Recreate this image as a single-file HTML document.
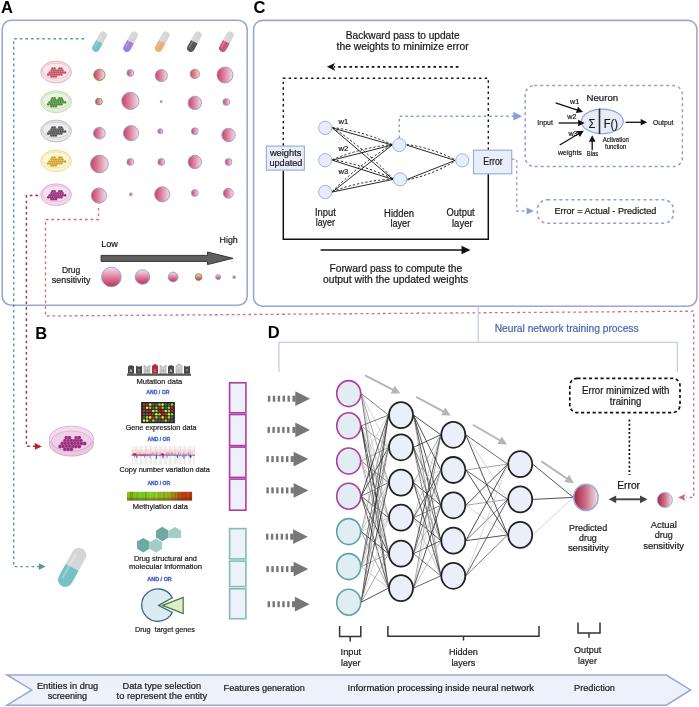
<!DOCTYPE html>
<html><head><meta charset="utf-8"><style>
html,body{margin:0;padding:0;background:#fff;}
svg{display:block;will-change:transform;}
text{font-family:"Liberation Sans",sans-serif;}
</style></head><body>
<svg width="699" height="707" viewBox="0 0 699 707">
<rect width="699" height="707" fill="#fff"/>

<defs>
 <linearGradient id="bub" x1="0" y1="0" x2="1" y2="0">
  <stop offset="0" stop-color="#cb3d62"/><stop offset="0.45" stop-color="#de8299"/><stop offset="1" stop-color="#f5e0e7"/>
 </linearGradient>
 <linearGradient id="bubo" x1="0" y1="0" x2="1" y2="0">
  <stop offset="0" stop-color="#cf4a48"/><stop offset="0.5" stop-color="#e58a80"/><stop offset="1" stop-color="#f6ddd8"/>
 </linearGradient>
 <linearGradient id="bubv" x1="0" y1="0" x2="0" y2="1">
  <stop offset="0" stop-color="#f6e2e8"/><stop offset="0.55" stop-color="#dc7892"/><stop offset="1" stop-color="#c22f55"/>
 </linearGradient>
 <linearGradient id="pred" x1="0" y1="0" x2="1" y2="0">
  <stop offset="0" stop-color="#a1213f"/><stop offset="0.5" stop-color="#cc7186"/><stop offset="1" stop-color="#f5e6eb"/>
 </linearGradient>
 <linearGradient id="meth" x1="0" y1="0" x2="1" y2="0">
  <stop offset="0" stop-color="#72c41c"/><stop offset="0.45" stop-color="#86d22a"/><stop offset="0.65" stop-color="#9aa81c"/><stop offset="0.8" stop-color="#b04a14"/><stop offset="1" stop-color="#c0300c"/>
 </linearGradient>
 <linearGradient id="methb" x1="0" y1="0" x2="0" y2="1">
  <stop offset="0" stop-color="#000" stop-opacity="0"/><stop offset="0.6" stop-color="#000" stop-opacity="0"/><stop offset="1" stop-color="#a02010" stop-opacity="0.55"/>
 </linearGradient>
 <marker id="ahb" viewBox="0 0 10 10" refX="9" refY="5" markerWidth="5" markerHeight="5" orient="auto-start-reverse" markerUnits="userSpaceOnUse">
  <path d="M0,0 L10,5 L0,10 z" fill="#111"/>
 </marker>
</defs>

<rect x="2.2" y="20.3" width="245" height="285" rx="9" fill="none" stroke="#98a7d6" stroke-width="1.6"/>
<rect x="253.6" y="20.4" width="443.3" height="285.9" rx="9" fill="none" stroke="#98a7d6" stroke-width="1.6"/>
<text x="1.0" y="13.2" font-size="16.5" font-weight="700" fill="#000">A</text>
<text x="253.6" y="13.2" font-size="16.5" font-weight="700" fill="#000">C</text>
<text x="35.2" y="338.7" font-size="16.5" font-weight="700" fill="#000">B</text>
<text x="267.8" y="338.4" font-size="16.5" font-weight="700" fill="#000">D</text>
<path d="M84,38.7 H13.7 V566.6 H39" fill="none" stroke="#4e9e9f" stroke-width="1.4" stroke-dasharray="2.6,3"/>
<path d="M38.9,563.2 L45.6,566.6 L38.9,570.0 z" fill="#4e9e9f"/>
<path d="M38,195.5 H26.4 V446.3 H35" fill="none" stroke="#b3262b" stroke-width="1.4" stroke-dasharray="2.6,3"/>
<path d="M34.8,443.1 L41.9,446.4 L34.8,449.7 z" fill="#b3262b"/>
<path d="M98.5,208 V219.5 H45.5 V316 L693.7,311.2 V497.4 H686" fill="none" stroke="#d8646e" stroke-width="1.3" stroke-dasharray="2.6,3"/>
<path d="M685.6,494.1 L677.9,497.4 L685.6,500.7 L684.0,497.4 z" fill="#d8646e"/>
<g transform="translate(99.5,41.7) rotate(29)">
<path d="M-3.75,0 V-7.4 A3.75,3.75 0 0 1 3.75,-7.4 V0 z" fill="#d6d6d6"/>
<path d="M-3.75,0 V7.4 A3.75,3.75 0 0 0 3.75,7.4 V0 z" fill="#73c4c8"/>
<path d="M-1.6875,-7.4 V7.4" stroke="#fff" stroke-opacity="0.25" stroke-width="1.125"/>
</g>
<g transform="translate(130.6,41.7) rotate(29)">
<path d="M-3.75,0 V-7.4 A3.75,3.75 0 0 1 3.75,-7.4 V0 z" fill="#d6d6d6"/>
<path d="M-3.75,0 V7.4 A3.75,3.75 0 0 0 3.75,7.4 V0 z" fill="#9b80dd"/>
<path d="M-1.6875,-7.4 V7.4" stroke="#fff" stroke-opacity="0.25" stroke-width="1.125"/>
</g>
<g transform="translate(162.2,41.7) rotate(29)">
<path d="M-3.75,0 V-7.4 A3.75,3.75 0 0 1 3.75,-7.4 V0 z" fill="#d6d6d6"/>
<path d="M-3.75,0 V7.4 A3.75,3.75 0 0 0 3.75,7.4 V0 z" fill="#e0b27c"/>
<path d="M-1.6875,-7.4 V7.4" stroke="#fff" stroke-opacity="0.25" stroke-width="1.125"/>
</g>
<g transform="translate(194.4,41.7) rotate(29)">
<path d="M-3.75,0 V-7.4 A3.75,3.75 0 0 1 3.75,-7.4 V0 z" fill="#d6d6d6"/>
<path d="M-3.75,0 V7.4 A3.75,3.75 0 0 0 3.75,7.4 V0 z" fill="#585858"/>
<path d="M-1.6875,-7.4 V7.4" stroke="#fff" stroke-opacity="0.25" stroke-width="1.125"/>
</g>
<g transform="translate(226.4,41.7) rotate(29)">
<path d="M-3.75,0 V-7.4 A3.75,3.75 0 0 1 3.75,-7.4 V0 z" fill="#d6d6d6"/>
<path d="M-3.75,0 V7.4 A3.75,3.75 0 0 0 3.75,7.4 V0 z" fill="#c9587a"/>
<path d="M-1.6875,-7.4 V7.4" stroke="#fff" stroke-opacity="0.25" stroke-width="1.125"/>
</g>
<ellipse cx="56.1" cy="72.0" rx="15.4" ry="10.9" fill="#f7e0e3" stroke="#e6aab3" stroke-width="0.8"/>
<ellipse cx="56.1" cy="70.91" rx="13.55" ry="7.85" fill="#fff" fill-opacity="0.3" stroke="#e6aab3" stroke-width="0.6" opacity="0.9"/>
<circle cx="52.50" cy="68.60" r="1.35" fill="#c4505c" stroke="#fff" stroke-opacity="0.3" stroke-width="0.35"/>
<circle cx="54.60" cy="68.60" r="1.35" fill="#c4505c" stroke="#fff" stroke-opacity="0.3" stroke-width="0.35"/>
<circle cx="59.30" cy="68.60" r="1.35" fill="#c4505c" stroke="#fff" stroke-opacity="0.3" stroke-width="0.35"/>
<circle cx="61.40" cy="68.60" r="1.35" fill="#c4505c" stroke="#fff" stroke-opacity="0.3" stroke-width="0.35"/>
<circle cx="51.50" cy="70.60" r="1.35" fill="#c4505c" stroke="#fff" stroke-opacity="0.3" stroke-width="0.35"/>
<circle cx="53.70" cy="70.60" r="1.35" fill="#c4505c" stroke="#fff" stroke-opacity="0.3" stroke-width="0.35"/>
<circle cx="55.90" cy="70.60" r="1.35" fill="#c4505c" stroke="#fff" stroke-opacity="0.3" stroke-width="0.35"/>
<circle cx="58.10" cy="70.60" r="1.35" fill="#c4505c" stroke="#fff" stroke-opacity="0.3" stroke-width="0.35"/>
<circle cx="60.30" cy="70.60" r="1.35" fill="#c4505c" stroke="#fff" stroke-opacity="0.3" stroke-width="0.35"/>
<circle cx="62.50" cy="70.60" r="1.35" fill="#c4505c" stroke="#fff" stroke-opacity="0.3" stroke-width="0.35"/>
<circle cx="49.70" cy="72.60" r="1.35" fill="#c4505c" stroke="#fff" stroke-opacity="0.3" stroke-width="0.35"/>
<circle cx="51.90" cy="72.60" r="1.35" fill="#c4505c" stroke="#fff" stroke-opacity="0.3" stroke-width="0.35"/>
<circle cx="54.10" cy="72.60" r="1.35" fill="#c4505c" stroke="#fff" stroke-opacity="0.3" stroke-width="0.35"/>
<circle cx="56.30" cy="72.60" r="1.35" fill="#c4505c" stroke="#fff" stroke-opacity="0.3" stroke-width="0.35"/>
<circle cx="58.50" cy="72.60" r="1.35" fill="#c4505c" stroke="#fff" stroke-opacity="0.3" stroke-width="0.35"/>
<circle cx="60.70" cy="72.60" r="1.35" fill="#c4505c" stroke="#fff" stroke-opacity="0.3" stroke-width="0.35"/>
<circle cx="62.90" cy="72.60" r="1.35" fill="#c4505c" stroke="#fff" stroke-opacity="0.3" stroke-width="0.35"/>
<circle cx="65.10" cy="72.60" r="1.35" fill="#c4505c" stroke="#fff" stroke-opacity="0.3" stroke-width="0.35"/>
<circle cx="48.20" cy="74.60" r="1.35" fill="#c4505c" stroke="#fff" stroke-opacity="0.3" stroke-width="0.35"/>
<circle cx="50.40" cy="74.60" r="1.35" fill="#c4505c" stroke="#fff" stroke-opacity="0.3" stroke-width="0.35"/>
<circle cx="52.60" cy="74.60" r="1.35" fill="#c4505c" stroke="#fff" stroke-opacity="0.3" stroke-width="0.35"/>
<circle cx="54.80" cy="74.60" r="1.35" fill="#c4505c" stroke="#fff" stroke-opacity="0.3" stroke-width="0.35"/>
<circle cx="57.00" cy="74.60" r="1.35" fill="#c4505c" stroke="#fff" stroke-opacity="0.3" stroke-width="0.35"/>
<circle cx="59.20" cy="74.60" r="1.35" fill="#c4505c" stroke="#fff" stroke-opacity="0.3" stroke-width="0.35"/>
<circle cx="61.40" cy="74.60" r="1.35" fill="#c4505c" stroke="#fff" stroke-opacity="0.3" stroke-width="0.35"/>
<circle cx="51.50" cy="76.50" r="1.35" fill="#c4505c" stroke="#fff" stroke-opacity="0.3" stroke-width="0.35"/>
<circle cx="53.70" cy="76.50" r="1.35" fill="#c4505c" stroke="#fff" stroke-opacity="0.3" stroke-width="0.35"/>
<circle cx="55.90" cy="76.50" r="1.35" fill="#c4505c" stroke="#fff" stroke-opacity="0.3" stroke-width="0.35"/>
<ellipse cx="56.1" cy="101.7" rx="15.4" ry="10.9" fill="#e3efd9" stroke="#b9d5a9" stroke-width="0.8"/>
<ellipse cx="56.1" cy="100.61" rx="13.55" ry="7.85" fill="#fff" fill-opacity="0.3" stroke="#b9d5a9" stroke-width="0.6" opacity="0.9"/>
<circle cx="52.50" cy="98.30" r="1.35" fill="#4f8b3b" stroke="#fff" stroke-opacity="0.3" stroke-width="0.35"/>
<circle cx="54.60" cy="98.30" r="1.35" fill="#4f8b3b" stroke="#fff" stroke-opacity="0.3" stroke-width="0.35"/>
<circle cx="59.30" cy="98.30" r="1.35" fill="#4f8b3b" stroke="#fff" stroke-opacity="0.3" stroke-width="0.35"/>
<circle cx="61.40" cy="98.30" r="1.35" fill="#4f8b3b" stroke="#fff" stroke-opacity="0.3" stroke-width="0.35"/>
<circle cx="51.50" cy="100.30" r="1.35" fill="#4f8b3b" stroke="#fff" stroke-opacity="0.3" stroke-width="0.35"/>
<circle cx="53.70" cy="100.30" r="1.35" fill="#4f8b3b" stroke="#fff" stroke-opacity="0.3" stroke-width="0.35"/>
<circle cx="55.90" cy="100.30" r="1.35" fill="#4f8b3b" stroke="#fff" stroke-opacity="0.3" stroke-width="0.35"/>
<circle cx="58.10" cy="100.30" r="1.35" fill="#4f8b3b" stroke="#fff" stroke-opacity="0.3" stroke-width="0.35"/>
<circle cx="60.30" cy="100.30" r="1.35" fill="#4f8b3b" stroke="#fff" stroke-opacity="0.3" stroke-width="0.35"/>
<circle cx="62.50" cy="100.30" r="1.35" fill="#4f8b3b" stroke="#fff" stroke-opacity="0.3" stroke-width="0.35"/>
<circle cx="49.70" cy="102.30" r="1.35" fill="#4f8b3b" stroke="#fff" stroke-opacity="0.3" stroke-width="0.35"/>
<circle cx="51.90" cy="102.30" r="1.35" fill="#4f8b3b" stroke="#fff" stroke-opacity="0.3" stroke-width="0.35"/>
<circle cx="54.10" cy="102.30" r="1.35" fill="#4f8b3b" stroke="#fff" stroke-opacity="0.3" stroke-width="0.35"/>
<circle cx="56.30" cy="102.30" r="1.35" fill="#4f8b3b" stroke="#fff" stroke-opacity="0.3" stroke-width="0.35"/>
<circle cx="58.50" cy="102.30" r="1.35" fill="#4f8b3b" stroke="#fff" stroke-opacity="0.3" stroke-width="0.35"/>
<circle cx="60.70" cy="102.30" r="1.35" fill="#4f8b3b" stroke="#fff" stroke-opacity="0.3" stroke-width="0.35"/>
<circle cx="62.90" cy="102.30" r="1.35" fill="#4f8b3b" stroke="#fff" stroke-opacity="0.3" stroke-width="0.35"/>
<circle cx="65.10" cy="102.30" r="1.35" fill="#4f8b3b" stroke="#fff" stroke-opacity="0.3" stroke-width="0.35"/>
<circle cx="48.20" cy="104.30" r="1.35" fill="#4f8b3b" stroke="#fff" stroke-opacity="0.3" stroke-width="0.35"/>
<circle cx="50.40" cy="104.30" r="1.35" fill="#4f8b3b" stroke="#fff" stroke-opacity="0.3" stroke-width="0.35"/>
<circle cx="52.60" cy="104.30" r="1.35" fill="#4f8b3b" stroke="#fff" stroke-opacity="0.3" stroke-width="0.35"/>
<circle cx="54.80" cy="104.30" r="1.35" fill="#4f8b3b" stroke="#fff" stroke-opacity="0.3" stroke-width="0.35"/>
<circle cx="57.00" cy="104.30" r="1.35" fill="#4f8b3b" stroke="#fff" stroke-opacity="0.3" stroke-width="0.35"/>
<circle cx="59.20" cy="104.30" r="1.35" fill="#4f8b3b" stroke="#fff" stroke-opacity="0.3" stroke-width="0.35"/>
<circle cx="61.40" cy="104.30" r="1.35" fill="#4f8b3b" stroke="#fff" stroke-opacity="0.3" stroke-width="0.35"/>
<circle cx="51.50" cy="106.20" r="1.35" fill="#4f8b3b" stroke="#fff" stroke-opacity="0.3" stroke-width="0.35"/>
<circle cx="53.70" cy="106.20" r="1.35" fill="#4f8b3b" stroke="#fff" stroke-opacity="0.3" stroke-width="0.35"/>
<circle cx="55.90" cy="106.20" r="1.35" fill="#4f8b3b" stroke="#fff" stroke-opacity="0.3" stroke-width="0.35"/>
<ellipse cx="56.1" cy="131.0" rx="15.4" ry="10.9" fill="#e6e6e6" stroke="#b9b9b9" stroke-width="0.8"/>
<ellipse cx="56.1" cy="129.91" rx="13.55" ry="7.85" fill="#fff" fill-opacity="0.3" stroke="#b9b9b9" stroke-width="0.6" opacity="0.9"/>
<circle cx="52.50" cy="127.60" r="1.35" fill="#4f4f4f" stroke="#fff" stroke-opacity="0.3" stroke-width="0.35"/>
<circle cx="54.60" cy="127.60" r="1.35" fill="#4f4f4f" stroke="#fff" stroke-opacity="0.3" stroke-width="0.35"/>
<circle cx="59.30" cy="127.60" r="1.35" fill="#4f4f4f" stroke="#fff" stroke-opacity="0.3" stroke-width="0.35"/>
<circle cx="61.40" cy="127.60" r="1.35" fill="#4f4f4f" stroke="#fff" stroke-opacity="0.3" stroke-width="0.35"/>
<circle cx="51.50" cy="129.60" r="1.35" fill="#4f4f4f" stroke="#fff" stroke-opacity="0.3" stroke-width="0.35"/>
<circle cx="53.70" cy="129.60" r="1.35" fill="#4f4f4f" stroke="#fff" stroke-opacity="0.3" stroke-width="0.35"/>
<circle cx="55.90" cy="129.60" r="1.35" fill="#4f4f4f" stroke="#fff" stroke-opacity="0.3" stroke-width="0.35"/>
<circle cx="58.10" cy="129.60" r="1.35" fill="#4f4f4f" stroke="#fff" stroke-opacity="0.3" stroke-width="0.35"/>
<circle cx="60.30" cy="129.60" r="1.35" fill="#4f4f4f" stroke="#fff" stroke-opacity="0.3" stroke-width="0.35"/>
<circle cx="62.50" cy="129.60" r="1.35" fill="#4f4f4f" stroke="#fff" stroke-opacity="0.3" stroke-width="0.35"/>
<circle cx="49.70" cy="131.60" r="1.35" fill="#4f4f4f" stroke="#fff" stroke-opacity="0.3" stroke-width="0.35"/>
<circle cx="51.90" cy="131.60" r="1.35" fill="#4f4f4f" stroke="#fff" stroke-opacity="0.3" stroke-width="0.35"/>
<circle cx="54.10" cy="131.60" r="1.35" fill="#4f4f4f" stroke="#fff" stroke-opacity="0.3" stroke-width="0.35"/>
<circle cx="56.30" cy="131.60" r="1.35" fill="#4f4f4f" stroke="#fff" stroke-opacity="0.3" stroke-width="0.35"/>
<circle cx="58.50" cy="131.60" r="1.35" fill="#4f4f4f" stroke="#fff" stroke-opacity="0.3" stroke-width="0.35"/>
<circle cx="60.70" cy="131.60" r="1.35" fill="#4f4f4f" stroke="#fff" stroke-opacity="0.3" stroke-width="0.35"/>
<circle cx="62.90" cy="131.60" r="1.35" fill="#4f4f4f" stroke="#fff" stroke-opacity="0.3" stroke-width="0.35"/>
<circle cx="65.10" cy="131.60" r="1.35" fill="#4f4f4f" stroke="#fff" stroke-opacity="0.3" stroke-width="0.35"/>
<circle cx="48.20" cy="133.60" r="1.35" fill="#4f4f4f" stroke="#fff" stroke-opacity="0.3" stroke-width="0.35"/>
<circle cx="50.40" cy="133.60" r="1.35" fill="#4f4f4f" stroke="#fff" stroke-opacity="0.3" stroke-width="0.35"/>
<circle cx="52.60" cy="133.60" r="1.35" fill="#4f4f4f" stroke="#fff" stroke-opacity="0.3" stroke-width="0.35"/>
<circle cx="54.80" cy="133.60" r="1.35" fill="#4f4f4f" stroke="#fff" stroke-opacity="0.3" stroke-width="0.35"/>
<circle cx="57.00" cy="133.60" r="1.35" fill="#4f4f4f" stroke="#fff" stroke-opacity="0.3" stroke-width="0.35"/>
<circle cx="59.20" cy="133.60" r="1.35" fill="#4f4f4f" stroke="#fff" stroke-opacity="0.3" stroke-width="0.35"/>
<circle cx="61.40" cy="133.60" r="1.35" fill="#4f4f4f" stroke="#fff" stroke-opacity="0.3" stroke-width="0.35"/>
<circle cx="51.50" cy="135.50" r="1.35" fill="#4f4f4f" stroke="#fff" stroke-opacity="0.3" stroke-width="0.35"/>
<circle cx="53.70" cy="135.50" r="1.35" fill="#4f4f4f" stroke="#fff" stroke-opacity="0.3" stroke-width="0.35"/>
<circle cx="55.90" cy="135.50" r="1.35" fill="#4f4f4f" stroke="#fff" stroke-opacity="0.3" stroke-width="0.35"/>
<ellipse cx="56.1" cy="160.9" rx="15.4" ry="10.9" fill="#fbf2cc" stroke="#ead88c" stroke-width="0.8"/>
<ellipse cx="56.1" cy="159.81" rx="13.55" ry="7.85" fill="#fff" fill-opacity="0.3" stroke="#ead88c" stroke-width="0.6" opacity="0.9"/>
<circle cx="52.50" cy="157.50" r="1.35" fill="#d3a224" stroke="#fff" stroke-opacity="0.3" stroke-width="0.35"/>
<circle cx="54.60" cy="157.50" r="1.35" fill="#d3a224" stroke="#fff" stroke-opacity="0.3" stroke-width="0.35"/>
<circle cx="59.30" cy="157.50" r="1.35" fill="#d3a224" stroke="#fff" stroke-opacity="0.3" stroke-width="0.35"/>
<circle cx="61.40" cy="157.50" r="1.35" fill="#d3a224" stroke="#fff" stroke-opacity="0.3" stroke-width="0.35"/>
<circle cx="51.50" cy="159.50" r="1.35" fill="#d3a224" stroke="#fff" stroke-opacity="0.3" stroke-width="0.35"/>
<circle cx="53.70" cy="159.50" r="1.35" fill="#d3a224" stroke="#fff" stroke-opacity="0.3" stroke-width="0.35"/>
<circle cx="55.90" cy="159.50" r="1.35" fill="#d3a224" stroke="#fff" stroke-opacity="0.3" stroke-width="0.35"/>
<circle cx="58.10" cy="159.50" r="1.35" fill="#d3a224" stroke="#fff" stroke-opacity="0.3" stroke-width="0.35"/>
<circle cx="60.30" cy="159.50" r="1.35" fill="#d3a224" stroke="#fff" stroke-opacity="0.3" stroke-width="0.35"/>
<circle cx="62.50" cy="159.50" r="1.35" fill="#d3a224" stroke="#fff" stroke-opacity="0.3" stroke-width="0.35"/>
<circle cx="49.70" cy="161.50" r="1.35" fill="#d3a224" stroke="#fff" stroke-opacity="0.3" stroke-width="0.35"/>
<circle cx="51.90" cy="161.50" r="1.35" fill="#d3a224" stroke="#fff" stroke-opacity="0.3" stroke-width="0.35"/>
<circle cx="54.10" cy="161.50" r="1.35" fill="#d3a224" stroke="#fff" stroke-opacity="0.3" stroke-width="0.35"/>
<circle cx="56.30" cy="161.50" r="1.35" fill="#d3a224" stroke="#fff" stroke-opacity="0.3" stroke-width="0.35"/>
<circle cx="58.50" cy="161.50" r="1.35" fill="#d3a224" stroke="#fff" stroke-opacity="0.3" stroke-width="0.35"/>
<circle cx="60.70" cy="161.50" r="1.35" fill="#d3a224" stroke="#fff" stroke-opacity="0.3" stroke-width="0.35"/>
<circle cx="62.90" cy="161.50" r="1.35" fill="#d3a224" stroke="#fff" stroke-opacity="0.3" stroke-width="0.35"/>
<circle cx="65.10" cy="161.50" r="1.35" fill="#d3a224" stroke="#fff" stroke-opacity="0.3" stroke-width="0.35"/>
<circle cx="48.20" cy="163.50" r="1.35" fill="#d3a224" stroke="#fff" stroke-opacity="0.3" stroke-width="0.35"/>
<circle cx="50.40" cy="163.50" r="1.35" fill="#d3a224" stroke="#fff" stroke-opacity="0.3" stroke-width="0.35"/>
<circle cx="52.60" cy="163.50" r="1.35" fill="#d3a224" stroke="#fff" stroke-opacity="0.3" stroke-width="0.35"/>
<circle cx="54.80" cy="163.50" r="1.35" fill="#d3a224" stroke="#fff" stroke-opacity="0.3" stroke-width="0.35"/>
<circle cx="57.00" cy="163.50" r="1.35" fill="#d3a224" stroke="#fff" stroke-opacity="0.3" stroke-width="0.35"/>
<circle cx="59.20" cy="163.50" r="1.35" fill="#d3a224" stroke="#fff" stroke-opacity="0.3" stroke-width="0.35"/>
<circle cx="61.40" cy="163.50" r="1.35" fill="#d3a224" stroke="#fff" stroke-opacity="0.3" stroke-width="0.35"/>
<circle cx="51.50" cy="165.40" r="1.35" fill="#d3a224" stroke="#fff" stroke-opacity="0.3" stroke-width="0.35"/>
<circle cx="53.70" cy="165.40" r="1.35" fill="#d3a224" stroke="#fff" stroke-opacity="0.3" stroke-width="0.35"/>
<circle cx="55.90" cy="165.40" r="1.35" fill="#d3a224" stroke="#fff" stroke-opacity="0.3" stroke-width="0.35"/>
<ellipse cx="56.1" cy="194.7" rx="15.4" ry="10.9" fill="#f3d8ec" stroke="#d8a6cd" stroke-width="0.8"/>
<ellipse cx="56.1" cy="193.61" rx="13.55" ry="7.85" fill="#fff" fill-opacity="0.3" stroke="#d8a6cd" stroke-width="0.6" opacity="0.9"/>
<circle cx="52.50" cy="191.30" r="1.35" fill="#962a78" stroke="#fff" stroke-opacity="0.3" stroke-width="0.35"/>
<circle cx="54.60" cy="191.30" r="1.35" fill="#962a78" stroke="#fff" stroke-opacity="0.3" stroke-width="0.35"/>
<circle cx="59.30" cy="191.30" r="1.35" fill="#962a78" stroke="#fff" stroke-opacity="0.3" stroke-width="0.35"/>
<circle cx="61.40" cy="191.30" r="1.35" fill="#962a78" stroke="#fff" stroke-opacity="0.3" stroke-width="0.35"/>
<circle cx="51.50" cy="193.30" r="1.35" fill="#962a78" stroke="#fff" stroke-opacity="0.3" stroke-width="0.35"/>
<circle cx="53.70" cy="193.30" r="1.35" fill="#962a78" stroke="#fff" stroke-opacity="0.3" stroke-width="0.35"/>
<circle cx="55.90" cy="193.30" r="1.35" fill="#962a78" stroke="#fff" stroke-opacity="0.3" stroke-width="0.35"/>
<circle cx="58.10" cy="193.30" r="1.35" fill="#962a78" stroke="#fff" stroke-opacity="0.3" stroke-width="0.35"/>
<circle cx="60.30" cy="193.30" r="1.35" fill="#962a78" stroke="#fff" stroke-opacity="0.3" stroke-width="0.35"/>
<circle cx="62.50" cy="193.30" r="1.35" fill="#962a78" stroke="#fff" stroke-opacity="0.3" stroke-width="0.35"/>
<circle cx="49.70" cy="195.30" r="1.35" fill="#962a78" stroke="#fff" stroke-opacity="0.3" stroke-width="0.35"/>
<circle cx="51.90" cy="195.30" r="1.35" fill="#962a78" stroke="#fff" stroke-opacity="0.3" stroke-width="0.35"/>
<circle cx="54.10" cy="195.30" r="1.35" fill="#962a78" stroke="#fff" stroke-opacity="0.3" stroke-width="0.35"/>
<circle cx="56.30" cy="195.30" r="1.35" fill="#962a78" stroke="#fff" stroke-opacity="0.3" stroke-width="0.35"/>
<circle cx="58.50" cy="195.30" r="1.35" fill="#962a78" stroke="#fff" stroke-opacity="0.3" stroke-width="0.35"/>
<circle cx="60.70" cy="195.30" r="1.35" fill="#962a78" stroke="#fff" stroke-opacity="0.3" stroke-width="0.35"/>
<circle cx="62.90" cy="195.30" r="1.35" fill="#962a78" stroke="#fff" stroke-opacity="0.3" stroke-width="0.35"/>
<circle cx="65.10" cy="195.30" r="1.35" fill="#962a78" stroke="#fff" stroke-opacity="0.3" stroke-width="0.35"/>
<circle cx="48.20" cy="197.30" r="1.35" fill="#962a78" stroke="#fff" stroke-opacity="0.3" stroke-width="0.35"/>
<circle cx="50.40" cy="197.30" r="1.35" fill="#962a78" stroke="#fff" stroke-opacity="0.3" stroke-width="0.35"/>
<circle cx="52.60" cy="197.30" r="1.35" fill="#962a78" stroke="#fff" stroke-opacity="0.3" stroke-width="0.35"/>
<circle cx="54.80" cy="197.30" r="1.35" fill="#962a78" stroke="#fff" stroke-opacity="0.3" stroke-width="0.35"/>
<circle cx="57.00" cy="197.30" r="1.35" fill="#962a78" stroke="#fff" stroke-opacity="0.3" stroke-width="0.35"/>
<circle cx="59.20" cy="197.30" r="1.35" fill="#962a78" stroke="#fff" stroke-opacity="0.3" stroke-width="0.35"/>
<circle cx="61.40" cy="197.30" r="1.35" fill="#962a78" stroke="#fff" stroke-opacity="0.3" stroke-width="0.35"/>
<circle cx="51.50" cy="199.20" r="1.35" fill="#962a78" stroke="#fff" stroke-opacity="0.3" stroke-width="0.35"/>
<circle cx="53.70" cy="199.20" r="1.35" fill="#962a78" stroke="#fff" stroke-opacity="0.3" stroke-width="0.35"/>
<circle cx="55.90" cy="199.20" r="1.35" fill="#962a78" stroke="#fff" stroke-opacity="0.3" stroke-width="0.35"/>
<circle cx="99.4" cy="74.9" r="5.7" fill="url(#bub)" stroke="#6e9e3e" stroke-width="0.9"/>
<circle cx="130.3" cy="73.0" r="3.4" fill="url(#bub)" stroke="#8d9ce0" stroke-width="0.9"/>
<circle cx="161.3" cy="75.6" r="6.1" fill="url(#bub)" stroke="#8d9ce0" stroke-width="0.9"/>
<circle cx="194.8" cy="73.9" r="4.7" fill="url(#bubo)" stroke="#8d9ce0" stroke-width="0.9"/>
<circle cx="225.0" cy="75.0" r="8.0" fill="url(#bub)" stroke="#8d9ce0" stroke-width="0.9"/>
<circle cx="98.9" cy="101.6" r="3.4" fill="url(#bub)" stroke="#6e9e3e" stroke-width="0.9"/>
<circle cx="130.3" cy="100.9" r="8.6" fill="url(#bub)" stroke="#8d9ce0" stroke-width="0.9"/>
<circle cx="161.3" cy="101.6" r="1.2" fill="url(#bub)" stroke="#8d9ce0" stroke-width="0.6"/>
<circle cx="194.8" cy="102.9" r="6.7" fill="url(#bub)" stroke="#8d9ce0" stroke-width="0.9"/>
<circle cx="226.3" cy="102.0" r="3.4" fill="url(#bub)" stroke="#8d9ce0" stroke-width="0.9"/>
<circle cx="99.4" cy="133.2" r="5.9" fill="url(#bub)" stroke="#8d9ce0" stroke-width="0.9"/>
<circle cx="131.0" cy="133.2" r="7.6" fill="url(#bub)" stroke="#8d9ce0" stroke-width="0.9"/>
<circle cx="160.3" cy="131.2" r="2.5" fill="url(#bub)" stroke="#8d9ce0" stroke-width="0.9"/>
<circle cx="194.8" cy="131.2" r="3.4" fill="url(#bub)" stroke="#8d9ce0" stroke-width="0.9"/>
<circle cx="228.5" cy="135.0" r="6.7" fill="url(#bub)" stroke="#8d9ce0" stroke-width="0.9"/>
<circle cx="99.4" cy="164.0" r="8.9" fill="url(#bub)" stroke="#8d9ce0" stroke-width="0.9"/>
<circle cx="130.3" cy="162.0" r="3.4" fill="url(#bub)" stroke="#8d9ce0" stroke-width="0.9"/>
<circle cx="161.3" cy="162.0" r="3.4" fill="url(#bub)" stroke="#8d9ce0" stroke-width="0.9"/>
<circle cx="194.8" cy="162.0" r="6.7" fill="url(#bub)" stroke="#8d9ce0" stroke-width="0.9"/>
<circle cx="228.5" cy="162.0" r="3.4" fill="url(#bub)" stroke="#8d9ce0" stroke-width="0.9"/>
<circle cx="98.9" cy="195.6" r="7.6" fill="url(#bub)" stroke="#8d9ce0" stroke-width="0.9"/>
<circle cx="131.0" cy="194.3" r="1.6" fill="url(#bub)" stroke="#8d9ce0" stroke-width="0.6"/>
<circle cx="162.2" cy="194.3" r="7.6" fill="url(#bub)" stroke="#8d9ce0" stroke-width="0.9"/>
<circle cx="194.8" cy="193.0" r="3.4" fill="url(#bub)" stroke="#8d9ce0" stroke-width="0.9"/>
<circle cx="228.3" cy="193.3" r="5.0" fill="url(#bub)" stroke="#8d9ce0" stroke-width="0.9"/>
<text x="101.2" y="246.9" font-size="9.6" fill="#1a1a1a" stroke="#1a1a1a" stroke-width="0.22" textLength="16.7" lengthAdjust="spacingAndGlyphs">Low</text>
<text x="219.6" y="242.9" font-size="9.6" fill="#1a1a1a" stroke="#1a1a1a" stroke-width="0.22" textLength="18.2" lengthAdjust="spacingAndGlyphs">High</text>
<path d="M101.1,255.4 H207.5 V252 L233,258.3 L207.5,264.6 V261.4 H101.1 z" fill="#5f5f5f" stroke="#2a2a2a" stroke-width="0.9" stroke-linejoin="miter"/>
<text x="61.9" y="272.8" font-size="9.3" fill="#1a1a1a" stroke="#1a1a1a" stroke-width="0.22" textLength="18.3" lengthAdjust="spacingAndGlyphs">Drug</text>
<text x="51.8" y="282.7" font-size="9.3" fill="#1a1a1a" stroke="#1a1a1a" stroke-width="0.22" textLength="38.7" lengthAdjust="spacingAndGlyphs">sensitivity</text>
<circle cx="111.4" cy="277.0" r="9.8" fill="url(#bubv)" stroke="#8d9ce0" stroke-width="0.9"/>
<circle cx="142.5" cy="277.0" r="7.3" fill="url(#bubv)" stroke="#8d9ce0" stroke-width="0.9"/>
<circle cx="173.1" cy="277.0" r="4.9" fill="url(#bubv)" stroke="#8d9ce0" stroke-width="0.9"/>
<circle cx="198.6" cy="277.0" r="3.4" fill="url(#bubv)" stroke="#6e9e3e" stroke-width="0.9"/>
<circle cx="218.2" cy="277.0" r="2.5" fill="url(#bubv)" stroke="#8d9ce0" stroke-width="0.9"/>
<circle cx="234.1" cy="277.0" r="1.5" fill="url(#bubv)" stroke="#8d9ce0" stroke-width="0.6"/>
<text x="345.8" y="39.2" font-size="10.4" fill="#1a1a1a" stroke="#1a1a1a" stroke-width="0.22" textLength="113.9" lengthAdjust="spacingAndGlyphs">Backward pass to update</text>
<text x="336.6" y="50.0" font-size="10.4" fill="#1a1a1a" stroke="#1a1a1a" stroke-width="0.22" textLength="132.1" lengthAdjust="spacingAndGlyphs">the weights to minimize error</text>
<path d="M458.4,66.8 H334" fill="none" stroke="#111" stroke-width="1.8" stroke-dasharray="2.6,3.0"/>
<path d="M326.9,66.8 L335,62.9 L333.2,66.8 L335,70.7 z" fill="#111"/>
<path d="M283.3,145.7 V78.3 H488.3 V149.8" fill="none" stroke="#111" stroke-width="1.4" stroke-dasharray="2.4,3.2"/>
<path d="M283.3,170.4 V239.3 H488.3 V174" fill="none" stroke="#111" stroke-width="1.5"/>
<rect x="266.4" y="146.1" width="38" height="24" fill="#e9eefa" stroke="#9aaee2" stroke-width="1.2"/>
<text x="269.9" y="155.6" font-size="9.6" fill="#1a1a1a" stroke="#1a1a1a" stroke-width="0.22" textLength="31.5" lengthAdjust="spacingAndGlyphs">weights</text>
<text x="269.5" y="165.9" font-size="9.6" fill="#1a1a1a" stroke="#1a1a1a" stroke-width="0.22" textLength="32.9" lengthAdjust="spacingAndGlyphs">updated</text>
<rect x="473.5" y="150.2" width="38.2" height="23.6" fill="#e9eefa" stroke="#9aaee2" stroke-width="1.2"/>
<text x="483.3" y="165.0" font-size="10.3" fill="#1a1a1a" stroke="#1a1a1a" stroke-width="0.22" textLength="19.5" lengthAdjust="spacingAndGlyphs">Error</text>
<line x1="332.3" y1="127.9" x2="392.2" y2="145.0" stroke="#111" stroke-width="0.9"/>
<path d="M332.4,127.4 Q363.6,131.6 392.3,144.5" fill="none" stroke="#111" stroke-width="0.9" stroke-dasharray="2.3,2.0"/>
<line x1="332.3" y1="127.9" x2="393.0" y2="179.4" stroke="#111" stroke-width="0.9"/>
<path d="M332.6,127.5 Q365.9,149.8 393.3,179.0" fill="none" stroke="#111" stroke-width="0.9" stroke-dasharray="2.3,2.0"/>
<line x1="332.3" y1="160.2" x2="392.2" y2="145.0" stroke="#111" stroke-width="0.9"/>
<path d="M332.2,159.7 Q361.0,147.8 392.1,144.5" fill="none" stroke="#111" stroke-width="0.9" stroke-dasharray="2.3,2.0"/>
<line x1="332.3" y1="160.2" x2="393.0" y2="179.4" stroke="#111" stroke-width="0.9"/>
<path d="M332.5,159.7 Q364.2,165.0 393.2,178.9" fill="none" stroke="#111" stroke-width="0.9" stroke-dasharray="2.3,2.0"/>
<line x1="332.3" y1="192.0" x2="392.2" y2="145.0" stroke="#111" stroke-width="0.9"/>
<path d="M332.0,191.6 Q359.2,164.6 391.9,144.6" fill="none" stroke="#111" stroke-width="0.9" stroke-dasharray="2.3,2.0"/>
<line x1="332.3" y1="192.0" x2="393.0" y2="179.4" stroke="#111" stroke-width="0.9"/>
<path d="M332.2,191.5 Q361.6,180.8 392.9,178.9" fill="none" stroke="#111" stroke-width="0.9" stroke-dasharray="2.3,2.0"/>
<line x1="406.4" y1="145.0" x2="455.2" y2="160.4" stroke="#111" stroke-width="0.9"/>
<path d="M406.6,144.5 Q432.3,147.9 455.4,159.9" fill="none" stroke="#111" stroke-width="0.9" stroke-dasharray="2.3,2.0"/>
<line x1="407.2" y1="179.4" x2="455.2" y2="160.4" stroke="#111" stroke-width="0.9"/>
<path d="M407.4,179.9 Q433.0,174.5 455.4,160.9" fill="none" stroke="#111" stroke-width="0.9" stroke-dasharray="2.3,2.0"/>
<circle cx="325.2" cy="127.9" r="6.6" fill="#e8eef9" stroke="#9db0e2" stroke-width="1"/>
<circle cx="325.2" cy="160.2" r="6.6" fill="#e8eef9" stroke="#9db0e2" stroke-width="1"/>
<circle cx="325.2" cy="192.0" r="6.6" fill="#e8eef9" stroke="#9db0e2" stroke-width="1"/>
<circle cx="399.3" cy="145.0" r="6.6" fill="#e8eef9" stroke="#9db0e2" stroke-width="1"/>
<circle cx="400.1" cy="179.4" r="6.6" fill="#e8eef9" stroke="#9db0e2" stroke-width="1"/>
<circle cx="462.3" cy="160.4" r="6.6" fill="#e8eef9" stroke="#9db0e2" stroke-width="1"/>
<text x="338.6" y="124.3" font-size="7.6" fill="#1a1a1a" stroke="#1a1a1a" stroke-width="0.2">w1</text>
<text x="338.6" y="150.5" font-size="7.6" fill="#1a1a1a" stroke="#1a1a1a" stroke-width="0.2">w2</text>
<text x="338.6" y="174.4" font-size="7.6" fill="#1a1a1a" stroke="#1a1a1a" stroke-width="0.2">w3</text>
<text x="315.0" y="215.5" font-size="10.0" fill="#1a1a1a" stroke="#1a1a1a" stroke-width="0.22" textLength="20.8" lengthAdjust="spacingAndGlyphs">Input</text>
<text x="315.7" y="226.2" font-size="10.0" fill="#1a1a1a" stroke="#1a1a1a" stroke-width="0.22" textLength="19.2" lengthAdjust="spacingAndGlyphs">layer</text>
<text x="384.1" y="217.1" font-size="10.0" fill="#1a1a1a" stroke="#1a1a1a" stroke-width="0.22" textLength="29.8" lengthAdjust="spacingAndGlyphs">Hidden</text>
<text x="390.5" y="227.4" font-size="10.0" fill="#1a1a1a" stroke="#1a1a1a" stroke-width="0.22" textLength="19.7" lengthAdjust="spacingAndGlyphs">layer</text>
<text x="446.6" y="216.3" font-size="10.0" fill="#1a1a1a" stroke="#1a1a1a" stroke-width="0.22" textLength="28.1" lengthAdjust="spacingAndGlyphs">Output</text>
<text x="452.0" y="226.7" font-size="10.0" fill="#1a1a1a" stroke="#1a1a1a" stroke-width="0.22" textLength="20.7" lengthAdjust="spacingAndGlyphs">layer</text>
<path d="M320.6,250 H463" stroke="#111" stroke-width="1.5"/>
<path d="M470.5,250 L461.5,245.8 L461.5,254.2 z" fill="#111"/>
<text x="329.5" y="272.3" font-size="10.4" fill="#1a1a1a" stroke="#1a1a1a" stroke-width="0.22" textLength="132.7" lengthAdjust="spacingAndGlyphs">Forward pass to compute the</text>
<text x="322.9" y="283.2" font-size="10.4" fill="#1a1a1a" stroke="#1a1a1a" stroke-width="0.22" textLength="145.3" lengthAdjust="spacingAndGlyphs">output with the updated weights</text>
<path d="M399.3,138.2 V116.2 H514" fill="none" stroke="#8c9ed8" stroke-width="1.5" stroke-dasharray="2.6,3"/>
<path d="M513.4,111.8 L522.2,116.2 L513.4,120.6 z" fill="#8c9ed8"/>
<path d="M512,159.1 H516.8 V211 H527" fill="none" stroke="#8c9ed8" stroke-width="1.3" stroke-dasharray="2.6,3"/>
<path d="M526.6,207.4 L534,211 L526.6,214.6 z" fill="#8c9ed8"/>
<rect x="525.2" y="85.6" width="157.2" height="81" rx="9" fill="none" stroke="#8c9ed8" stroke-width="1.5" stroke-dasharray="3,3"/>
<text x="586.5" y="101.0" font-size="9.8" fill="#1a1a1a" stroke="#1a1a1a" stroke-width="0.22" textLength="31.6" lengthAdjust="spacingAndGlyphs">Neuron</text>
<ellipse cx="602.3" cy="121.4" rx="21" ry="12.3" fill="#e6ecf8" stroke="#8c9ed8" stroke-width="1.1"/>
<path d="M599.5,108.6 V134.2" stroke="#333" stroke-width="1.6"/>
<text x="588.4" y="127.7" font-size="13.5" fill="#1a1a1a" stroke="#1a1a1a" stroke-width="0.22" textLength="6.9" lengthAdjust="spacingAndGlyphs">&#931;</text>
<text x="603.7" y="128.4" font-size="13.5" fill="#1a1a1a" stroke="#1a1a1a" stroke-width="0.22" textLength="14.4" lengthAdjust="spacingAndGlyphs">F()</text>
<text x="537.3" y="124.8" font-size="7.4" fill="#1a1a1a" stroke="#1a1a1a" stroke-width="0.2" textLength="15.6" lengthAdjust="spacingAndGlyphs">Input</text>
<text x="652.9" y="124.8" font-size="7.4" fill="#1a1a1a" stroke="#1a1a1a" stroke-width="0.2" textLength="20.6" lengthAdjust="spacingAndGlyphs">Output</text>
<text x="570.0" y="103.8" font-size="7.2" fill="#1a1a1a" stroke="#1a1a1a" stroke-width="0.2">w1</text>
<text x="567.3" y="119.3" font-size="7.2" fill="#1a1a1a" stroke="#1a1a1a" stroke-width="0.2">w2</text>
<text x="568.4" y="135.8" font-size="7.2" fill="#1a1a1a" stroke="#1a1a1a" stroke-width="0.2">w3</text>
<text x="557.9" y="155.3" font-size="7.5" fill="#1a1a1a" stroke="#1a1a1a" stroke-width="0.2" textLength="24.0" lengthAdjust="spacingAndGlyphs">weights</text>
<text x="586.8" y="156.2" font-size="6.9" fill="#1a1a1a" stroke="#1a1a1a" stroke-width="0.2" textLength="11.4" lengthAdjust="spacingAndGlyphs">Bias</text>
<text x="602.8" y="142.2" font-size="6.7" fill="#1a1a1a" stroke="#1a1a1a" stroke-width="0.2" textLength="26.1" lengthAdjust="spacingAndGlyphs">Activation</text>
<text x="605.0" y="148.8" font-size="6.7" fill="#1a1a1a" stroke="#1a1a1a" stroke-width="0.2" textLength="21.1" lengthAdjust="spacingAndGlyphs">function</text>
<line x1="555.6" y1="102.8" x2="577.4" y2="110.1" stroke="#111" stroke-width="1.3"/>
<path d="M583.1,112.0 L575.9,113.1 L578.0,106.8 z" fill="#111"/>
<line x1="558.6" y1="123.0" x2="578.6" y2="123.0" stroke="#111" stroke-width="1.3"/>
<path d="M584.6,123.0 L578.1,126.3 L578.1,119.7 z" fill="#111"/>
<line x1="559.7" y1="145.0" x2="578.6" y2="133.8" stroke="#111" stroke-width="1.3"/>
<path d="M583.8,130.8 L579.9,136.9 L576.5,131.3 z" fill="#111"/>
<line x1="592.2" y1="150.2" x2="592.2" y2="141.2" stroke="#111" stroke-width="1.3"/>
<path d="M592.2,135.2 L595.5,141.7 L588.9,141.7 z" fill="#111"/>
<line x1="625.7" y1="122.3" x2="641.2" y2="122.3" stroke="#111" stroke-width="1.3"/>
<path d="M647.2,122.3 L640.7,125.6 L640.7,119.0 z" fill="#111"/>
<rect x="537.4" y="199.7" width="136" height="23.6" rx="10" fill="none" stroke="#8c9ed8" stroke-width="1.5" stroke-dasharray="3,3"/>
<text x="554.4" y="214.4" font-size="9.4" fill="#1a1a1a" stroke="#1a1a1a" stroke-width="0.22" textLength="102.0" lengthAdjust="spacingAndGlyphs">Error = Actual - Predicted</text>
<path d="M478.2,306.5 V342.4" stroke="#c3cbec" stroke-width="1.3"/>
<path d="M278.9,372 V342.4 H677.4 V372" fill="none" stroke="#c3cbec" stroke-width="1.3"/>
<text x="494.7" y="332.1" font-size="10.2" fill="#4a66b3" stroke="#4a66b3" stroke-width="0.22" textLength="143.9" lengthAdjust="spacingAndGlyphs">Neural network training process</text>
<ellipse cx="71.4" cy="443.7" rx="22" ry="12.4" fill="#ecc6e2" stroke="#d29fc6" stroke-width="0.8"/>
<ellipse cx="71.4" cy="438.6" rx="22" ry="12.4" fill="#f4dcef" stroke="#d29fc6" stroke-width="0.8"/>
<ellipse cx="71.4" cy="441" rx="20" ry="10" fill="#efd0e7" stroke="#d7a8cd" stroke-width="0.7"/>
<circle cx="66.38" cy="437.77" r="1.96" fill="#992a7c" stroke="#fff" stroke-opacity="0.3" stroke-width="0.51"/>
<circle cx="69.42" cy="437.77" r="1.96" fill="#992a7c" stroke="#fff" stroke-opacity="0.3" stroke-width="0.51"/>
<circle cx="76.24" cy="437.77" r="1.96" fill="#992a7c" stroke="#fff" stroke-opacity="0.3" stroke-width="0.51"/>
<circle cx="79.28" cy="437.77" r="1.96" fill="#992a7c" stroke="#fff" stroke-opacity="0.3" stroke-width="0.51"/>
<circle cx="64.93" cy="440.67" r="1.96" fill="#992a7c" stroke="#fff" stroke-opacity="0.3" stroke-width="0.51"/>
<circle cx="68.12" cy="440.67" r="1.96" fill="#992a7c" stroke="#fff" stroke-opacity="0.3" stroke-width="0.51"/>
<circle cx="71.31" cy="440.67" r="1.96" fill="#992a7c" stroke="#fff" stroke-opacity="0.3" stroke-width="0.51"/>
<circle cx="74.50" cy="440.67" r="1.96" fill="#992a7c" stroke="#fff" stroke-opacity="0.3" stroke-width="0.51"/>
<circle cx="77.69" cy="440.67" r="1.96" fill="#992a7c" stroke="#fff" stroke-opacity="0.3" stroke-width="0.51"/>
<circle cx="80.88" cy="440.67" r="1.96" fill="#992a7c" stroke="#fff" stroke-opacity="0.3" stroke-width="0.51"/>
<circle cx="62.32" cy="443.57" r="1.96" fill="#992a7c" stroke="#fff" stroke-opacity="0.3" stroke-width="0.51"/>
<circle cx="65.51" cy="443.57" r="1.96" fill="#992a7c" stroke="#fff" stroke-opacity="0.3" stroke-width="0.51"/>
<circle cx="68.70" cy="443.57" r="1.96" fill="#992a7c" stroke="#fff" stroke-opacity="0.3" stroke-width="0.51"/>
<circle cx="71.89" cy="443.57" r="1.96" fill="#992a7c" stroke="#fff" stroke-opacity="0.3" stroke-width="0.51"/>
<circle cx="75.08" cy="443.57" r="1.96" fill="#992a7c" stroke="#fff" stroke-opacity="0.3" stroke-width="0.51"/>
<circle cx="78.27" cy="443.57" r="1.96" fill="#992a7c" stroke="#fff" stroke-opacity="0.3" stroke-width="0.51"/>
<circle cx="81.46" cy="443.57" r="1.96" fill="#992a7c" stroke="#fff" stroke-opacity="0.3" stroke-width="0.51"/>
<circle cx="84.65" cy="443.57" r="1.96" fill="#992a7c" stroke="#fff" stroke-opacity="0.3" stroke-width="0.51"/>
<circle cx="60.14" cy="446.47" r="1.96" fill="#992a7c" stroke="#fff" stroke-opacity="0.3" stroke-width="0.51"/>
<circle cx="63.33" cy="446.47" r="1.96" fill="#992a7c" stroke="#fff" stroke-opacity="0.3" stroke-width="0.51"/>
<circle cx="66.52" cy="446.47" r="1.96" fill="#992a7c" stroke="#fff" stroke-opacity="0.3" stroke-width="0.51"/>
<circle cx="69.71" cy="446.47" r="1.96" fill="#992a7c" stroke="#fff" stroke-opacity="0.3" stroke-width="0.51"/>
<circle cx="72.91" cy="446.47" r="1.96" fill="#992a7c" stroke="#fff" stroke-opacity="0.3" stroke-width="0.51"/>
<circle cx="76.09" cy="446.47" r="1.96" fill="#992a7c" stroke="#fff" stroke-opacity="0.3" stroke-width="0.51"/>
<circle cx="79.28" cy="446.47" r="1.96" fill="#992a7c" stroke="#fff" stroke-opacity="0.3" stroke-width="0.51"/>
<circle cx="64.93" cy="449.22" r="1.96" fill="#992a7c" stroke="#fff" stroke-opacity="0.3" stroke-width="0.51"/>
<circle cx="68.12" cy="449.22" r="1.96" fill="#992a7c" stroke="#fff" stroke-opacity="0.3" stroke-width="0.51"/>
<circle cx="71.31" cy="449.22" r="1.96" fill="#992a7c" stroke="#fff" stroke-opacity="0.3" stroke-width="0.51"/>
<g transform="translate(72.2,567.3) rotate(29)">
<path d="M-7.35,0 V-14.0 A7.35,7.35 0 0 1 7.35,-14.0 V0 z" fill="#d6d6d6"/>
<path d="M-7.35,0 V14.0 A7.35,7.35 0 0 0 7.35,14.0 V0 z" fill="#74c2c6"/>
<path d="M-3.3075,-14.0 V14.0" stroke="#fff" stroke-opacity="0.25" stroke-width="2.2049999999999996"/>
</g>
<path d="M128.0,373.8 V367.5 Q128.0,365.2 131.0,365.2 Q134.0,365.2 134.0,367.5 V373.8 z" fill="#474747"/>
<text x="131.0" y="371.6" font-size="4.2" fill="#ddd" text-anchor="middle">A</text>
<path d="M136.0,373.8 V365.5 L137.5,366.6 H140.5 L142.0,365.5 V373.8 z" fill="#474747"/>
<text x="139.0" y="371.6" font-size="4.2" fill="#ddd" text-anchor="middle">T</text>
<path d="M144.0,373.8 V365.2 L147.0,367.2 L150.0,365.2 V373.8 z" fill="#cfcfcf" stroke="#8a8a8a" stroke-width="0.5"/>
<text x="147.0" y="371.6" font-size="4.2" fill="#888" text-anchor="middle">G</text>
<path d="M152.0,373.8 V366.0 L155.0,363.8 L158.0,366.0 V373.8 z" fill="#b32a3a"/>
<text x="155.0" y="371.6" font-size="4.2" fill="#ddd" text-anchor="middle">C</text>
<path d="M160.0,373.8 V365.2 L163.0,367.2 L166.0,365.2 V373.8 z" fill="#cfcfcf" stroke="#8a8a8a" stroke-width="0.5"/>
<text x="163.0" y="371.6" font-size="4.2" fill="#888" text-anchor="middle">G</text>
<path d="M168.0,373.8 V367.5 Q168.0,365.2 171.0,365.2 Q174.0,365.2 174.0,367.5 V373.8 z" fill="#474747"/>
<text x="171.0" y="371.6" font-size="4.2" fill="#ddd" text-anchor="middle">A</text>
<path d="M176.0,373.8 V366.0 L179.0,363.8 L182.0,366.0 V373.8 z" fill="#cfcfcf" stroke="#8a8a8a" stroke-width="0.5"/>
<text x="179.0" y="371.6" font-size="4.2" fill="#888" text-anchor="middle">C</text>
<path d="M184.0,373.8 V365.5 L185.5,366.6 H188.5 L190.0,365.5 V373.8 z" fill="#474747"/>
<text x="187.0" y="371.6" font-size="4.2" fill="#ddd" text-anchor="middle">T</text>
<rect x="127" y="373.6" width="64" height="2.2" fill="#555"/>
<text x="136.5" y="383.6" font-size="7.6" fill="#1a1a1a" stroke="#1a1a1a" stroke-width="0.2" textLength="45.7" lengthAdjust="spacingAndGlyphs">Mutation data</text>
<text x="146.2" y="393.9" font-size="5.6" font-weight="700" fill="#4261c4" textLength="23.2" lengthAdjust="spacingAndGlyphs" stroke="#4261c4" stroke-width="0.3">AND / OR</text>
<rect x="141.1" y="402" width="33.8" height="21.2" fill="#262626"/>
<circle cx="144.00" cy="404.60" r="1.3" fill="#5a5a5a"/>
<circle cx="147.11" cy="404.60" r="1.3" fill="#e0151b"/>
<circle cx="150.22" cy="404.60" r="1.3" fill="#f2e71c"/>
<circle cx="153.33" cy="404.60" r="1.3" fill="#5a5a5a"/>
<circle cx="156.44" cy="404.60" r="1.3" fill="#5a5a5a"/>
<circle cx="159.55" cy="404.60" r="1.3" fill="#7fe02a"/>
<circle cx="162.66" cy="404.60" r="1.3" fill="#f2e71c"/>
<circle cx="165.77" cy="404.60" r="1.3" fill="#5a5a5a"/>
<circle cx="168.88" cy="404.60" r="1.3" fill="#5a5a5a"/>
<circle cx="171.99" cy="404.60" r="1.3" fill="#7fe02a"/>
<circle cx="144.00" cy="407.80" r="1.3" fill="#e0151b"/>
<circle cx="147.11" cy="407.80" r="1.3" fill="#f2e71c"/>
<circle cx="150.22" cy="407.80" r="1.3" fill="#7fe02a"/>
<circle cx="153.33" cy="407.80" r="1.3" fill="#5a5a5a"/>
<circle cx="156.44" cy="407.80" r="1.3" fill="#7fe02a"/>
<circle cx="159.55" cy="407.80" r="1.3" fill="#e0151b"/>
<circle cx="162.66" cy="407.80" r="1.3" fill="#7fe02a"/>
<circle cx="165.77" cy="407.80" r="1.3" fill="#5a5a5a"/>
<circle cx="168.88" cy="407.80" r="1.3" fill="#7fe02a"/>
<circle cx="171.99" cy="407.80" r="1.3" fill="#e0151b"/>
<circle cx="144.00" cy="411.00" r="1.3" fill="#5a5a5a"/>
<circle cx="147.11" cy="411.00" r="1.3" fill="#5a5a5a"/>
<circle cx="150.22" cy="411.00" r="1.3" fill="#e0151b"/>
<circle cx="153.33" cy="411.00" r="1.3" fill="#f2e71c"/>
<circle cx="156.44" cy="411.00" r="1.3" fill="#7fe02a"/>
<circle cx="159.55" cy="411.00" r="1.3" fill="#e0151b"/>
<circle cx="162.66" cy="411.00" r="1.3" fill="#e0151b"/>
<circle cx="165.77" cy="411.00" r="1.3" fill="#f2e71c"/>
<circle cx="168.88" cy="411.00" r="1.3" fill="#7fe02a"/>
<circle cx="171.99" cy="411.00" r="1.3" fill="#e0151b"/>
<circle cx="144.00" cy="414.20" r="1.3" fill="#e0151b"/>
<circle cx="147.11" cy="414.20" r="1.3" fill="#5a5a5a"/>
<circle cx="150.22" cy="414.20" r="1.3" fill="#e0151b"/>
<circle cx="153.33" cy="414.20" r="1.3" fill="#5a5a5a"/>
<circle cx="156.44" cy="414.20" r="1.3" fill="#f2e71c"/>
<circle cx="159.55" cy="414.20" r="1.3" fill="#7fe02a"/>
<circle cx="162.66" cy="414.20" r="1.3" fill="#e0151b"/>
<circle cx="165.77" cy="414.20" r="1.3" fill="#5a5a5a"/>
<circle cx="168.88" cy="414.20" r="1.3" fill="#f2e71c"/>
<circle cx="171.99" cy="414.20" r="1.3" fill="#7fe02a"/>
<circle cx="144.00" cy="417.40" r="1.3" fill="#5a5a5a"/>
<circle cx="147.11" cy="417.40" r="1.3" fill="#7fe02a"/>
<circle cx="150.22" cy="417.40" r="1.3" fill="#f2e71c"/>
<circle cx="153.33" cy="417.40" r="1.3" fill="#e0151b"/>
<circle cx="156.44" cy="417.40" r="1.3" fill="#7fe02a"/>
<circle cx="159.55" cy="417.40" r="1.3" fill="#5a5a5a"/>
<circle cx="162.66" cy="417.40" r="1.3" fill="#f2e71c"/>
<circle cx="165.77" cy="417.40" r="1.3" fill="#e0151b"/>
<circle cx="168.88" cy="417.40" r="1.3" fill="#7fe02a"/>
<circle cx="171.99" cy="417.40" r="1.3" fill="#5a5a5a"/>
<circle cx="144.00" cy="420.60" r="1.3" fill="#f2e71c"/>
<circle cx="147.11" cy="420.60" r="1.3" fill="#f2e71c"/>
<circle cx="150.22" cy="420.60" r="1.3" fill="#5a5a5a"/>
<circle cx="153.33" cy="420.60" r="1.3" fill="#7fe02a"/>
<circle cx="156.44" cy="420.60" r="1.3" fill="#5a5a5a"/>
<circle cx="159.55" cy="420.60" r="1.3" fill="#5a5a5a"/>
<circle cx="162.66" cy="420.60" r="1.3" fill="#5a5a5a"/>
<circle cx="165.77" cy="420.60" r="1.3" fill="#7fe02a"/>
<circle cx="168.88" cy="420.60" r="1.3" fill="#5a5a5a"/>
<circle cx="171.99" cy="420.60" r="1.3" fill="#5a5a5a"/>
<text x="125.7" y="430.0" font-size="7.6" fill="#1a1a1a" stroke="#1a1a1a" stroke-width="0.2" textLength="70.8" lengthAdjust="spacingAndGlyphs">Gene expression data</text>
<text x="147.5" y="440.8" font-size="5.6" font-weight="700" fill="#4261c4" textLength="22.6" lengthAdjust="spacingAndGlyphs" stroke="#4261c4" stroke-width="0.3">AND / OR</text>
<rect x="131.8" y="446" width="63" height="18.5" fill="#ebebeb"/>
<rect x="132.6" y="446" width="2.6" height="18.5" fill="#f8f8f8"/>
<rect x="137.4" y="446" width="2.6" height="18.5" fill="#f8f8f8"/>
<rect x="142.3" y="446" width="2.6" height="18.5" fill="#f8f8f8"/>
<rect x="147.2" y="446" width="2.6" height="18.5" fill="#f8f8f8"/>
<rect x="152.0" y="446" width="2.6" height="18.5" fill="#f8f8f8"/>
<rect x="156.8" y="446" width="2.6" height="18.5" fill="#f8f8f8"/>
<rect x="161.7" y="446" width="2.6" height="18.5" fill="#f8f8f8"/>
<rect x="166.5" y="446" width="2.6" height="18.5" fill="#f8f8f8"/>
<rect x="171.4" y="446" width="2.6" height="18.5" fill="#f8f8f8"/>
<rect x="176.2" y="446" width="2.6" height="18.5" fill="#f8f8f8"/>
<rect x="181.1" y="446" width="2.6" height="18.5" fill="#f8f8f8"/>
<rect x="185.9" y="446" width="2.6" height="18.5" fill="#f8f8f8"/>
<rect x="190.8" y="446" width="2.6" height="18.5" fill="#f8f8f8"/>
<rect x="131.8" y="449.5" width="63" height="5.6" fill="#f3c0c0" opacity="0.45"/>
<line x1="132.0" y1="455.1" x2="132.0" y2="454.9" stroke="#e23a34" stroke-width="0.45" opacity="0.8"/>
<line x1="132.7" y1="455.1" x2="132.7" y2="454.1" stroke="#e23a34" stroke-width="0.45" opacity="0.8"/>
<line x1="133.4" y1="455.1" x2="133.4" y2="454.6" stroke="#e23a34" stroke-width="0.45" opacity="0.8"/>
<line x1="134.1" y1="455.1" x2="134.1" y2="453.8" stroke="#e23a34" stroke-width="0.45" opacity="0.8"/>
<line x1="134.8" y1="455.1" x2="134.8" y2="453.7" stroke="#e23a34" stroke-width="0.45" opacity="0.8"/>
<line x1="135.5" y1="455.1" x2="135.5" y2="455.1" stroke="#e23a34" stroke-width="0.45" opacity="0.8"/>
<line x1="136.2" y1="455.1" x2="136.2" y2="455.1" stroke="#e23a34" stroke-width="0.45" opacity="0.8"/>
<line x1="136.9" y1="455.1" x2="136.9" y2="452.6" stroke="#e23a34" stroke-width="0.45" opacity="0.8"/>
<line x1="137.6" y1="455.1" x2="137.6" y2="454.9" stroke="#e23a34" stroke-width="0.45" opacity="0.8"/>
<line x1="138.3" y1="455.1" x2="138.3" y2="454.9" stroke="#e23a34" stroke-width="0.45" opacity="0.8"/>
<line x1="139.0" y1="455.1" x2="139.0" y2="451.6" stroke="#e23a34" stroke-width="0.45" opacity="0.8"/>
<line x1="139.7" y1="455.1" x2="139.7" y2="454.3" stroke="#e23a34" stroke-width="0.45" opacity="0.8"/>
<line x1="140.4" y1="455.1" x2="140.4" y2="452.7" stroke="#e23a34" stroke-width="0.45" opacity="0.8"/>
<line x1="141.1" y1="455.1" x2="141.1" y2="454.3" stroke="#e23a34" stroke-width="0.45" opacity="0.8"/>
<line x1="141.8" y1="455.1" x2="141.8" y2="453.7" stroke="#e23a34" stroke-width="0.45" opacity="0.8"/>
<line x1="142.5" y1="455.1" x2="142.5" y2="455.0" stroke="#e23a34" stroke-width="0.45" opacity="0.8"/>
<line x1="143.2" y1="455.1" x2="143.2" y2="453.7" stroke="#e23a34" stroke-width="0.45" opacity="0.8"/>
<line x1="143.9" y1="455.1" x2="143.9" y2="452.5" stroke="#e23a34" stroke-width="0.45" opacity="0.8"/>
<line x1="144.6" y1="455.1" x2="144.6" y2="454.1" stroke="#e23a34" stroke-width="0.45" opacity="0.8"/>
<line x1="145.3" y1="455.1" x2="145.3" y2="453.2" stroke="#e23a34" stroke-width="0.45" opacity="0.8"/>
<line x1="146.0" y1="455.1" x2="146.0" y2="453.5" stroke="#e23a34" stroke-width="0.45" opacity="0.8"/>
<line x1="146.7" y1="455.1" x2="146.7" y2="455.1" stroke="#e23a34" stroke-width="0.45" opacity="0.8"/>
<line x1="147.4" y1="455.1" x2="147.4" y2="453.1" stroke="#e23a34" stroke-width="0.45" opacity="0.8"/>
<line x1="148.1" y1="455.1" x2="148.1" y2="453.9" stroke="#e23a34" stroke-width="0.45" opacity="0.8"/>
<line x1="148.8" y1="455.1" x2="148.8" y2="454.8" stroke="#e23a34" stroke-width="0.45" opacity="0.8"/>
<line x1="149.5" y1="455.1" x2="149.5" y2="455.1" stroke="#e23a34" stroke-width="0.45" opacity="0.8"/>
<line x1="150.2" y1="455.1" x2="150.2" y2="452.5" stroke="#e23a34" stroke-width="0.45" opacity="0.8"/>
<line x1="150.9" y1="455.1" x2="150.9" y2="454.3" stroke="#e23a34" stroke-width="0.45" opacity="0.8"/>
<line x1="151.6" y1="455.1" x2="151.6" y2="453.3" stroke="#e23a34" stroke-width="0.45" opacity="0.8"/>
<line x1="152.3" y1="455.1" x2="152.3" y2="452.4" stroke="#e23a34" stroke-width="0.45" opacity="0.8"/>
<line x1="153.0" y1="455.1" x2="153.0" y2="453.3" stroke="#e23a34" stroke-width="0.45" opacity="0.8"/>
<line x1="153.7" y1="455.1" x2="153.7" y2="452.1" stroke="#e23a34" stroke-width="0.45" opacity="0.8"/>
<line x1="154.4" y1="455.1" x2="154.4" y2="454.6" stroke="#e23a34" stroke-width="0.45" opacity="0.8"/>
<line x1="155.1" y1="455.1" x2="155.1" y2="452.9" stroke="#e23a34" stroke-width="0.45" opacity="0.8"/>
<line x1="155.8" y1="455.1" x2="155.8" y2="454.4" stroke="#e23a34" stroke-width="0.45" opacity="0.8"/>
<line x1="156.5" y1="455.1" x2="156.5" y2="452.0" stroke="#e23a34" stroke-width="0.45" opacity="0.8"/>
<line x1="157.2" y1="455.1" x2="157.2" y2="452.4" stroke="#e23a34" stroke-width="0.45" opacity="0.8"/>
<line x1="157.9" y1="455.1" x2="157.9" y2="455.1" stroke="#e23a34" stroke-width="0.45" opacity="0.8"/>
<line x1="158.6" y1="455.1" x2="158.6" y2="455.0" stroke="#e23a34" stroke-width="0.45" opacity="0.8"/>
<line x1="159.3" y1="455.1" x2="159.3" y2="454.9" stroke="#e23a34" stroke-width="0.45" opacity="0.8"/>
<line x1="160.0" y1="455.1" x2="160.0" y2="451.8" stroke="#e23a34" stroke-width="0.45" opacity="0.8"/>
<line x1="160.7" y1="455.1" x2="160.7" y2="454.4" stroke="#e23a34" stroke-width="0.45" opacity="0.8"/>
<line x1="161.4" y1="455.1" x2="161.4" y2="453.7" stroke="#e23a34" stroke-width="0.45" opacity="0.8"/>
<line x1="162.1" y1="455.1" x2="162.1" y2="454.8" stroke="#e23a34" stroke-width="0.45" opacity="0.8"/>
<line x1="162.8" y1="455.1" x2="162.8" y2="454.2" stroke="#e23a34" stroke-width="0.45" opacity="0.8"/>
<line x1="163.5" y1="455.1" x2="163.5" y2="454.6" stroke="#e23a34" stroke-width="0.45" opacity="0.8"/>
<line x1="164.2" y1="455.1" x2="164.2" y2="454.7" stroke="#e23a34" stroke-width="0.45" opacity="0.8"/>
<line x1="164.9" y1="455.1" x2="164.9" y2="453.9" stroke="#e23a34" stroke-width="0.45" opacity="0.8"/>
<line x1="165.6" y1="455.1" x2="165.6" y2="453.9" stroke="#e23a34" stroke-width="0.45" opacity="0.8"/>
<line x1="166.3" y1="455.1" x2="166.3" y2="452.2" stroke="#e23a34" stroke-width="0.45" opacity="0.8"/>
<line x1="167.0" y1="455.1" x2="167.0" y2="453.5" stroke="#e23a34" stroke-width="0.45" opacity="0.8"/>
<line x1="167.7" y1="455.1" x2="167.7" y2="452.1" stroke="#e23a34" stroke-width="0.45" opacity="0.8"/>
<line x1="168.4" y1="455.1" x2="168.4" y2="452.5" stroke="#e23a34" stroke-width="0.45" opacity="0.8"/>
<line x1="169.1" y1="455.1" x2="169.1" y2="451.7" stroke="#e23a34" stroke-width="0.45" opacity="0.8"/>
<line x1="169.8" y1="455.1" x2="169.8" y2="453.5" stroke="#e23a34" stroke-width="0.45" opacity="0.8"/>
<line x1="170.5" y1="455.1" x2="170.5" y2="455.0" stroke="#e23a34" stroke-width="0.45" opacity="0.8"/>
<line x1="171.2" y1="455.1" x2="171.2" y2="452.5" stroke="#e23a34" stroke-width="0.45" opacity="0.8"/>
<line x1="171.9" y1="455.1" x2="171.9" y2="451.8" stroke="#e23a34" stroke-width="0.45" opacity="0.8"/>
<line x1="172.6" y1="455.1" x2="172.6" y2="452.2" stroke="#e23a34" stroke-width="0.45" opacity="0.8"/>
<line x1="173.3" y1="455.1" x2="173.3" y2="454.0" stroke="#e23a34" stroke-width="0.45" opacity="0.8"/>
<line x1="174.0" y1="455.1" x2="174.0" y2="453.3" stroke="#e23a34" stroke-width="0.45" opacity="0.8"/>
<line x1="174.7" y1="455.1" x2="174.7" y2="454.9" stroke="#e23a34" stroke-width="0.45" opacity="0.8"/>
<line x1="175.4" y1="455.1" x2="175.4" y2="452.7" stroke="#e23a34" stroke-width="0.45" opacity="0.8"/>
<line x1="176.1" y1="455.1" x2="176.1" y2="453.9" stroke="#e23a34" stroke-width="0.45" opacity="0.8"/>
<line x1="176.8" y1="455.1" x2="176.8" y2="454.8" stroke="#e23a34" stroke-width="0.45" opacity="0.8"/>
<line x1="177.5" y1="455.1" x2="177.5" y2="455.1" stroke="#e23a34" stroke-width="0.45" opacity="0.8"/>
<line x1="178.2" y1="455.1" x2="178.2" y2="452.5" stroke="#e23a34" stroke-width="0.45" opacity="0.8"/>
<line x1="178.9" y1="455.1" x2="178.9" y2="451.7" stroke="#e23a34" stroke-width="0.45" opacity="0.8"/>
<line x1="179.6" y1="455.1" x2="179.6" y2="455.1" stroke="#e23a34" stroke-width="0.45" opacity="0.8"/>
<line x1="180.3" y1="455.1" x2="180.3" y2="452.9" stroke="#e23a34" stroke-width="0.45" opacity="0.8"/>
<line x1="181.0" y1="455.1" x2="181.0" y2="454.5" stroke="#e23a34" stroke-width="0.45" opacity="0.8"/>
<line x1="181.7" y1="455.1" x2="181.7" y2="455.0" stroke="#e23a34" stroke-width="0.45" opacity="0.8"/>
<line x1="182.4" y1="455.1" x2="182.4" y2="454.8" stroke="#e23a34" stroke-width="0.45" opacity="0.8"/>
<line x1="183.1" y1="455.1" x2="183.1" y2="453.0" stroke="#e23a34" stroke-width="0.45" opacity="0.8"/>
<line x1="183.8" y1="455.1" x2="183.8" y2="452.4" stroke="#e23a34" stroke-width="0.45" opacity="0.8"/>
<line x1="184.5" y1="455.1" x2="184.5" y2="455.1" stroke="#e23a34" stroke-width="0.45" opacity="0.8"/>
<line x1="185.2" y1="455.1" x2="185.2" y2="453.8" stroke="#e23a34" stroke-width="0.45" opacity="0.8"/>
<line x1="185.9" y1="455.1" x2="185.9" y2="455.1" stroke="#e23a34" stroke-width="0.45" opacity="0.8"/>
<line x1="186.6" y1="455.1" x2="186.6" y2="453.3" stroke="#e23a34" stroke-width="0.45" opacity="0.8"/>
<line x1="187.3" y1="455.1" x2="187.3" y2="454.7" stroke="#e23a34" stroke-width="0.45" opacity="0.8"/>
<line x1="188.0" y1="455.1" x2="188.0" y2="452.4" stroke="#e23a34" stroke-width="0.45" opacity="0.8"/>
<line x1="188.7" y1="455.1" x2="188.7" y2="451.7" stroke="#e23a34" stroke-width="0.45" opacity="0.8"/>
<line x1="189.4" y1="455.1" x2="189.4" y2="454.2" stroke="#e23a34" stroke-width="0.45" opacity="0.8"/>
<line x1="190.1" y1="455.1" x2="190.1" y2="451.6" stroke="#e23a34" stroke-width="0.45" opacity="0.8"/>
<line x1="190.8" y1="455.1" x2="190.8" y2="454.8" stroke="#e23a34" stroke-width="0.45" opacity="0.8"/>
<line x1="191.5" y1="455.1" x2="191.5" y2="455.1" stroke="#e23a34" stroke-width="0.45" opacity="0.8"/>
<line x1="192.2" y1="455.1" x2="192.2" y2="453.8" stroke="#e23a34" stroke-width="0.45" opacity="0.8"/>
<line x1="192.9" y1="455.1" x2="192.9" y2="455.1" stroke="#e23a34" stroke-width="0.45" opacity="0.8"/>
<line x1="193.6" y1="455.1" x2="193.6" y2="455.0" stroke="#e23a34" stroke-width="0.45" opacity="0.8"/>
<line x1="194.3" y1="455.1" x2="194.3" y2="454.5" stroke="#e23a34" stroke-width="0.45" opacity="0.8"/>
<line x1="132.0" y1="455.3" x2="132.0" y2="456.0" stroke="#1f2fd8" stroke-width="0.5"/>
<line x1="132.9" y1="455.3" x2="132.9" y2="455.3" stroke="#1f2fd8" stroke-width="0.5"/>
<line x1="133.8" y1="455.3" x2="133.8" y2="455.3" stroke="#1f2fd8" stroke-width="0.5"/>
<line x1="134.7" y1="455.3" x2="134.7" y2="457.4" stroke="#1f2fd8" stroke-width="0.5"/>
<line x1="135.6" y1="455.3" x2="135.6" y2="455.4" stroke="#1f2fd8" stroke-width="0.5"/>
<line x1="136.5" y1="455.3" x2="136.5" y2="458.1" stroke="#1f2fd8" stroke-width="0.5"/>
<line x1="137.4" y1="455.3" x2="137.4" y2="457.6" stroke="#1f2fd8" stroke-width="0.5"/>
<line x1="138.3" y1="455.3" x2="138.3" y2="455.5" stroke="#1f2fd8" stroke-width="0.5"/>
<line x1="139.2" y1="455.3" x2="139.2" y2="455.6" stroke="#1f2fd8" stroke-width="0.5"/>
<line x1="140.1" y1="455.3" x2="140.1" y2="455.8" stroke="#1f2fd8" stroke-width="0.5"/>
<line x1="141.0" y1="455.3" x2="141.0" y2="456.2" stroke="#1f2fd8" stroke-width="0.5"/>
<line x1="141.9" y1="455.3" x2="141.9" y2="456.0" stroke="#1f2fd8" stroke-width="0.5"/>
<line x1="142.8" y1="455.3" x2="142.8" y2="455.9" stroke="#1f2fd8" stroke-width="0.5"/>
<line x1="143.7" y1="455.3" x2="143.7" y2="456.1" stroke="#1f2fd8" stroke-width="0.5"/>
<line x1="144.6" y1="455.3" x2="144.6" y2="458.0" stroke="#1f2fd8" stroke-width="0.5"/>
<line x1="145.5" y1="455.3" x2="145.5" y2="455.7" stroke="#1f2fd8" stroke-width="0.5"/>
<line x1="146.4" y1="455.3" x2="146.4" y2="455.6" stroke="#1f2fd8" stroke-width="0.5"/>
<line x1="147.3" y1="455.3" x2="147.3" y2="456.5" stroke="#1f2fd8" stroke-width="0.5"/>
<line x1="148.2" y1="455.3" x2="148.2" y2="455.3" stroke="#1f2fd8" stroke-width="0.5"/>
<line x1="149.1" y1="455.3" x2="149.1" y2="455.4" stroke="#1f2fd8" stroke-width="0.5"/>
<line x1="150.0" y1="455.3" x2="150.0" y2="458.3" stroke="#1f2fd8" stroke-width="0.5"/>
<line x1="150.9" y1="455.3" x2="150.9" y2="455.8" stroke="#1f2fd8" stroke-width="0.5"/>
<line x1="151.8" y1="455.3" x2="151.8" y2="455.8" stroke="#1f2fd8" stroke-width="0.5"/>
<line x1="152.7" y1="455.3" x2="152.7" y2="455.3" stroke="#1f2fd8" stroke-width="0.5"/>
<line x1="153.6" y1="455.3" x2="153.6" y2="455.5" stroke="#1f2fd8" stroke-width="0.5"/>
<line x1="154.5" y1="455.3" x2="154.5" y2="455.9" stroke="#1f2fd8" stroke-width="0.5"/>
<line x1="155.4" y1="455.3" x2="155.4" y2="455.3" stroke="#1f2fd8" stroke-width="0.5"/>
<line x1="156.3" y1="455.3" x2="156.3" y2="456.0" stroke="#1f2fd8" stroke-width="0.5"/>
<line x1="157.2" y1="455.3" x2="157.2" y2="456.1" stroke="#1f2fd8" stroke-width="0.5"/>
<line x1="158.1" y1="455.3" x2="158.1" y2="455.3" stroke="#1f2fd8" stroke-width="0.5"/>
<line x1="159.0" y1="455.3" x2="159.0" y2="456.1" stroke="#1f2fd8" stroke-width="0.5"/>
<line x1="159.9" y1="455.3" x2="159.9" y2="455.6" stroke="#1f2fd8" stroke-width="0.5"/>
<line x1="160.8" y1="455.3" x2="160.8" y2="456.3" stroke="#1f2fd8" stroke-width="0.5"/>
<line x1="161.7" y1="455.3" x2="161.7" y2="455.4" stroke="#1f2fd8" stroke-width="0.5"/>
<line x1="162.6" y1="455.3" x2="162.6" y2="456.4" stroke="#1f2fd8" stroke-width="0.5"/>
<line x1="163.5" y1="455.3" x2="163.5" y2="456.6" stroke="#1f2fd8" stroke-width="0.5"/>
<line x1="164.4" y1="455.3" x2="164.4" y2="455.3" stroke="#1f2fd8" stroke-width="0.5"/>
<line x1="165.3" y1="455.3" x2="165.3" y2="455.3" stroke="#1f2fd8" stroke-width="0.5"/>
<line x1="166.2" y1="455.3" x2="166.2" y2="456.3" stroke="#1f2fd8" stroke-width="0.5"/>
<line x1="167.1" y1="455.3" x2="167.1" y2="458.2" stroke="#1f2fd8" stroke-width="0.5"/>
<line x1="168.0" y1="455.3" x2="168.0" y2="455.4" stroke="#1f2fd8" stroke-width="0.5"/>
<line x1="168.9" y1="455.3" x2="168.9" y2="455.6" stroke="#1f2fd8" stroke-width="0.5"/>
<line x1="169.8" y1="455.3" x2="169.8" y2="456.0" stroke="#1f2fd8" stroke-width="0.5"/>
<line x1="170.7" y1="455.3" x2="170.7" y2="455.4" stroke="#1f2fd8" stroke-width="0.5"/>
<line x1="171.6" y1="455.3" x2="171.6" y2="455.5" stroke="#1f2fd8" stroke-width="0.5"/>
<line x1="172.5" y1="455.3" x2="172.5" y2="455.4" stroke="#1f2fd8" stroke-width="0.5"/>
<line x1="173.4" y1="455.3" x2="173.4" y2="455.5" stroke="#1f2fd8" stroke-width="0.5"/>
<line x1="174.3" y1="455.3" x2="174.3" y2="456.0" stroke="#1f2fd8" stroke-width="0.5"/>
<line x1="175.2" y1="455.3" x2="175.2" y2="455.4" stroke="#1f2fd8" stroke-width="0.5"/>
<line x1="176.1" y1="455.3" x2="176.1" y2="455.5" stroke="#1f2fd8" stroke-width="0.5"/>
<line x1="177.0" y1="455.3" x2="177.0" y2="456.8" stroke="#1f2fd8" stroke-width="0.5"/>
<line x1="177.9" y1="455.3" x2="177.9" y2="455.3" stroke="#1f2fd8" stroke-width="0.5"/>
<line x1="178.8" y1="455.3" x2="178.8" y2="455.9" stroke="#1f2fd8" stroke-width="0.5"/>
<line x1="179.7" y1="455.3" x2="179.7" y2="456.6" stroke="#1f2fd8" stroke-width="0.5"/>
<line x1="180.6" y1="455.3" x2="180.6" y2="455.4" stroke="#1f2fd8" stroke-width="0.5"/>
<line x1="181.5" y1="455.3" x2="181.5" y2="455.3" stroke="#1f2fd8" stroke-width="0.5"/>
<line x1="182.4" y1="455.3" x2="182.4" y2="457.0" stroke="#1f2fd8" stroke-width="0.5"/>
<line x1="183.3" y1="455.3" x2="183.3" y2="455.3" stroke="#1f2fd8" stroke-width="0.5"/>
<line x1="184.2" y1="455.3" x2="184.2" y2="455.3" stroke="#1f2fd8" stroke-width="0.5"/>
<line x1="185.1" y1="455.3" x2="185.1" y2="455.6" stroke="#1f2fd8" stroke-width="0.5"/>
<line x1="186.0" y1="455.3" x2="186.0" y2="456.4" stroke="#1f2fd8" stroke-width="0.5"/>
<line x1="186.9" y1="455.3" x2="186.9" y2="455.3" stroke="#1f2fd8" stroke-width="0.5"/>
<line x1="187.8" y1="455.3" x2="187.8" y2="455.4" stroke="#1f2fd8" stroke-width="0.5"/>
<line x1="188.7" y1="455.3" x2="188.7" y2="455.4" stroke="#1f2fd8" stroke-width="0.5"/>
<line x1="189.6" y1="455.3" x2="189.6" y2="457.2" stroke="#1f2fd8" stroke-width="0.5"/>
<line x1="190.5" y1="455.3" x2="190.5" y2="455.6" stroke="#1f2fd8" stroke-width="0.5"/>
<line x1="191.4" y1="455.3" x2="191.4" y2="457.3" stroke="#1f2fd8" stroke-width="0.5"/>
<line x1="192.3" y1="455.3" x2="192.3" y2="455.3" stroke="#1f2fd8" stroke-width="0.5"/>
<line x1="193.2" y1="455.3" x2="193.2" y2="455.4" stroke="#1f2fd8" stroke-width="0.5"/>
<line x1="194.1" y1="455.3" x2="194.1" y2="456.2" stroke="#1f2fd8" stroke-width="0.5"/>
<line x1="156.4" y1="455.3" x2="156.4" y2="458.8" stroke="#1f2fd8" stroke-width="0.9"/>
<line x1="163.0" y1="455.3" x2="163.0" y2="458.5" stroke="#1f2fd8" stroke-width="0.9"/>
<line x1="177.5" y1="455.3" x2="177.5" y2="458.1" stroke="#1f2fd8" stroke-width="0.9"/>
<line x1="184.0" y1="455.3" x2="184.0" y2="458.7" stroke="#1f2fd8" stroke-width="0.9"/>
<line x1="190.5" y1="455.3" x2="190.5" y2="457.90000000000003" stroke="#1f2fd8" stroke-width="0.9"/>
<path d="M131.8,455.2 H194.8" stroke="#3a3ae0" stroke-width="0.6"/>
<path d="M131.8,455.0 H150" stroke="#e02828" stroke-width="0.6"/>
<ellipse cx="134.6" cy="454.3" rx="1.8" ry="1" fill="#d01818"/>
<ellipse cx="162.5" cy="454.3" rx="1.6" ry="1" fill="#d01818"/>
<text x="119.4" y="472.4" font-size="7.6" fill="#1a1a1a" stroke="#1a1a1a" stroke-width="0.2" textLength="90.5" lengthAdjust="spacingAndGlyphs">Copy number variation data</text>
<text x="147.5" y="484.5" font-size="5.6" font-weight="700" fill="#4261c4" textLength="22.5" lengthAdjust="spacingAndGlyphs" stroke="#4261c4" stroke-width="0.3">AND / OR</text>
<rect x="127" y="491.8" width="65.1" height="8.7" fill="url(#meth)"/>
<rect x="147.7" y="491.8" width="0.5" height="8.7" fill="#5a9a18" opacity="0.35"/>
<rect x="131.6" y="491.8" width="0.8" height="8.7" fill="#a04010" opacity="0.35"/>
<rect x="164.3" y="491.8" width="1.1" height="8.7" fill="#a8d830" opacity="0.35"/>
<rect x="129.4" y="491.8" width="0.7" height="8.7" fill="#5a9a18" opacity="0.35"/>
<rect x="142.4" y="491.8" width="0.8" height="8.7" fill="#5a9a18" opacity="0.35"/>
<rect x="179.9" y="491.8" width="0.5" height="8.7" fill="#a8d830" opacity="0.35"/>
<rect x="167.4" y="491.8" width="0.9" height="8.7" fill="#5a9a18" opacity="0.35"/>
<rect x="163.9" y="491.8" width="0.7" height="8.7" fill="#a8d830" opacity="0.35"/>
<rect x="130.0" y="491.8" width="1.1" height="8.7" fill="#a04010" opacity="0.35"/>
<rect x="153.8" y="491.8" width="0.8" height="8.7" fill="#a04010" opacity="0.35"/>
<rect x="162.9" y="491.8" width="0.9" height="8.7" fill="#5a9a18" opacity="0.35"/>
<rect x="164.2" y="491.8" width="0.9" height="8.7" fill="#a04010" opacity="0.35"/>
<rect x="133.2" y="491.8" width="1.0" height="8.7" fill="#5a9a18" opacity="0.35"/>
<rect x="166.6" y="491.8" width="0.8" height="8.7" fill="#70b828" opacity="0.35"/>
<rect x="176.7" y="491.8" width="0.8" height="8.7" fill="#70b828" opacity="0.35"/>
<rect x="150.1" y="491.8" width="0.6" height="8.7" fill="#a8d830" opacity="0.35"/>
<rect x="171.7" y="491.8" width="0.6" height="8.7" fill="#a04010" opacity="0.35"/>
<rect x="160.6" y="491.8" width="1.1" height="8.7" fill="#70b828" opacity="0.35"/>
<rect x="145.4" y="491.8" width="1.2" height="8.7" fill="#5a9a18" opacity="0.35"/>
<rect x="159.8" y="491.8" width="0.5" height="8.7" fill="#a04010" opacity="0.35"/>
<rect x="136.7" y="491.8" width="0.8" height="8.7" fill="#5a9a18" opacity="0.35"/>
<rect x="188.6" y="491.8" width="0.5" height="8.7" fill="#a04010" opacity="0.35"/>
<rect x="148.8" y="491.8" width="0.7" height="8.7" fill="#70b828" opacity="0.35"/>
<rect x="164.1" y="491.8" width="0.8" height="8.7" fill="#5a9a18" opacity="0.35"/>
<rect x="187.5" y="491.8" width="0.8" height="8.7" fill="#5a9a18" opacity="0.35"/>
<rect x="130.9" y="491.8" width="1.0" height="8.7" fill="#70b828" opacity="0.35"/>
<rect x="145.2" y="491.8" width="0.7" height="8.7" fill="#a04010" opacity="0.35"/>
<rect x="128.4" y="491.8" width="0.8" height="8.7" fill="#a8d830" opacity="0.35"/>
<rect x="166.1" y="491.8" width="0.8" height="8.7" fill="#a8d830" opacity="0.35"/>
<rect x="176.2" y="491.8" width="0.5" height="8.7" fill="#a8d830" opacity="0.35"/>
<rect x="152.5" y="491.8" width="1.1" height="8.7" fill="#70b828" opacity="0.35"/>
<rect x="132.2" y="491.8" width="0.8" height="8.7" fill="#a04010" opacity="0.35"/>
<rect x="183.5" y="491.8" width="1.1" height="8.7" fill="#a04010" opacity="0.35"/>
<rect x="172.2" y="491.8" width="1.2" height="8.7" fill="#70b828" opacity="0.35"/>
<rect x="188.3" y="491.8" width="0.5" height="8.7" fill="#a8d830" opacity="0.35"/>
<rect x="136.7" y="491.8" width="0.9" height="8.7" fill="#5a9a18" opacity="0.35"/>
<rect x="158.0" y="491.8" width="0.9" height="8.7" fill="#a04010" opacity="0.35"/>
<rect x="145.0" y="491.8" width="0.5" height="8.7" fill="#a04010" opacity="0.35"/>
<rect x="166.0" y="491.8" width="0.7" height="8.7" fill="#a8d830" opacity="0.35"/>
<rect x="171.2" y="491.8" width="0.8" height="8.7" fill="#5a9a18" opacity="0.35"/>
<rect x="127" y="491.8" width="65.1" height="8.7" fill="url(#methb)"/>
<text x="132.8" y="509.1" font-size="7.6" fill="#1a1a1a" stroke="#1a1a1a" stroke-width="0.2" textLength="55.1" lengthAdjust="spacingAndGlyphs">Methylation data</text>
<polygon points="143.30,538.00 137.06,541.60 137.06,548.80 143.30,552.40 149.54,548.80 149.54,541.60" fill="#6faaa2"/>
<polygon points="156.00,538.50 149.94,542.00 149.94,549.00 156.00,552.50 162.06,549.00 162.06,542.00" fill="#a3cdc7"/>
<polygon points="162.30,526.80 156.06,530.40 156.06,537.60 162.30,541.20 168.54,537.60 168.54,530.40" fill="#6faaa2"/>
<polygon points="168.8,538 168.8,530.8 175,526.9 181.1,530.8 181.1,538" fill="#a3cdc7"/>
<text x="133.9" y="561.3" font-size="7.6" fill="#1a1a1a" stroke="#1a1a1a" stroke-width="0.2" textLength="63.0" lengthAdjust="spacingAndGlyphs">Drug structural and</text>
<text x="128.9" y="569.2" font-size="7.6" fill="#1a1a1a" stroke="#1a1a1a" stroke-width="0.2" textLength="73.2" lengthAdjust="spacingAndGlyphs">molecular information</text>
<text x="147.3" y="580.7" font-size="5.6" font-weight="700" fill="#4261c4" textLength="24.5" lengthAdjust="spacingAndGlyphs" stroke="#4261c4" stroke-width="0.3">AND / OR</text>
<path d="M158.7,605.4 L172.3,597.7 A16.2,16.2 0 1 0 172.3,612.5 z" fill="#dcebf2" stroke="#3d6680" stroke-width="1.3" stroke-linejoin="miter"/>
<path d="M162.7,605.4 L183.2,597.4 L183.2,613.6 z" fill="#deecca" stroke="#4a7a2a" stroke-width="1.2"/>
<text x="134.9" y="631.8" font-size="7.6" fill="#1a1a1a" stroke="#1a1a1a" stroke-width="0.2" textLength="60.1" lengthAdjust="spacingAndGlyphs">Drug&#160; target genes</text>
<rect x="229.6" y="382.8" width="16.3" height="30.0" fill="#edf1fb" stroke="#b13ba4" stroke-width="1.6"/>
<rect x="229.6" y="414.5" width="16.3" height="31.1" fill="#edf1fb" stroke="#b13ba4" stroke-width="1.6"/>
<rect x="229.6" y="447.1" width="16.3" height="30.3" fill="#edf1fb" stroke="#b13ba4" stroke-width="1.6"/>
<rect x="229.6" y="479.1" width="16.3" height="31.1" fill="#edf1fb" stroke="#b13ba4" stroke-width="1.6"/>
<rect x="229.6" y="528.6" width="16.3" height="30.3" fill="#edf1fb" stroke="#82bdb2" stroke-width="1.6"/>
<rect x="229.6" y="561.1" width="16.3" height="25.5" fill="#edf1fb" stroke="#82bdb2" stroke-width="1.6"/>
<rect x="229.6" y="588.8" width="16.3" height="29.9" fill="#edf1fb" stroke="#82bdb2" stroke-width="1.6"/>
<rect x="267.9" y="395.7" width="2.4" height="6.0" fill="#777"/>
<rect x="272.8" y="395.7" width="2.4" height="6.0" fill="#777"/>
<rect x="277.7" y="395.7" width="2.4" height="6.0" fill="#777"/>
<rect x="282.6" y="395.7" width="2.4" height="6.0" fill="#777"/>
<rect x="287.5" y="395.7" width="2.4" height="6.0" fill="#777"/>
<rect x="292.4" y="395.7" width="3.2" height="6.0" fill="#777"/>
<path d="M295.3,391.3 L310.0,398.7 L295.3,406.1 z" fill="#777"/>
<rect x="267.5" y="426.9" width="2.4" height="6.0" fill="#777"/>
<rect x="272.4" y="426.9" width="2.4" height="6.0" fill="#777"/>
<rect x="277.3" y="426.9" width="2.4" height="6.0" fill="#777"/>
<rect x="282.2" y="426.9" width="2.4" height="6.0" fill="#777"/>
<rect x="287.1" y="426.9" width="2.4" height="6.0" fill="#777"/>
<rect x="292.4" y="426.9" width="3.2" height="6.0" fill="#777"/>
<path d="M295.3,422.5 L310.0,429.9 L295.3,437.3 z" fill="#777"/>
<rect x="266.4" y="456.1" width="2.4" height="6.0" fill="#777"/>
<rect x="271.3" y="456.1" width="2.4" height="6.0" fill="#777"/>
<rect x="276.2" y="456.1" width="2.4" height="6.0" fill="#777"/>
<rect x="281.1" y="456.1" width="2.4" height="6.0" fill="#777"/>
<rect x="286.0" y="456.1" width="2.4" height="6.0" fill="#777"/>
<rect x="290.7" y="456.1" width="3.2" height="6.0" fill="#777"/>
<path d="M293.6,451.7 L308.3,459.1 L293.6,466.5 z" fill="#777"/>
<rect x="266.4" y="487.4" width="2.4" height="6.0" fill="#777"/>
<rect x="271.3" y="487.4" width="2.4" height="6.0" fill="#777"/>
<rect x="276.2" y="487.4" width="2.4" height="6.0" fill="#777"/>
<rect x="281.1" y="487.4" width="2.4" height="6.0" fill="#777"/>
<rect x="286.0" y="487.4" width="2.4" height="6.0" fill="#777"/>
<rect x="290.7" y="487.4" width="3.2" height="6.0" fill="#777"/>
<path d="M293.6,483.0 L308.3,490.4 L293.6,497.8 z" fill="#777"/>
<rect x="266.0" y="533.7" width="2.4" height="6.0" fill="#777"/>
<rect x="270.9" y="533.7" width="2.4" height="6.0" fill="#777"/>
<rect x="275.8" y="533.7" width="2.4" height="6.0" fill="#777"/>
<rect x="280.7" y="533.7" width="2.4" height="6.0" fill="#777"/>
<rect x="285.6" y="533.7" width="2.4" height="6.0" fill="#777"/>
<rect x="290.2" y="533.7" width="3.2" height="6.0" fill="#777"/>
<path d="M293.1,529.3 L307.8,536.7 L293.1,544.1 z" fill="#777"/>
<rect x="266.4" y="566.1" width="2.4" height="6.0" fill="#777"/>
<rect x="271.3" y="566.1" width="2.4" height="6.0" fill="#777"/>
<rect x="276.2" y="566.1" width="2.4" height="6.0" fill="#777"/>
<rect x="281.1" y="566.1" width="2.4" height="6.0" fill="#777"/>
<rect x="286.0" y="566.1" width="2.4" height="6.0" fill="#777"/>
<rect x="290.7" y="566.1" width="3.2" height="6.0" fill="#777"/>
<path d="M293.6,561.7 L308.3,569.1 L293.6,576.5 z" fill="#777"/>
<rect x="267.6" y="601.2" width="2.4" height="6.0" fill="#777"/>
<rect x="272.5" y="601.2" width="2.4" height="6.0" fill="#777"/>
<rect x="277.4" y="601.2" width="2.4" height="6.0" fill="#777"/>
<rect x="282.3" y="601.2" width="2.4" height="6.0" fill="#777"/>
<rect x="287.2" y="601.2" width="2.4" height="6.0" fill="#777"/>
<rect x="292.0" y="601.2" width="3.2" height="6.0" fill="#777"/>
<path d="M294.9,596.8 L309.6,604.2 L294.9,611.6 z" fill="#777"/>
<line x1="361.2" y1="393.6" x2="388.5" y2="415.1" stroke="#555" stroke-width="0.75"/>
<line x1="361.2" y1="393.6" x2="388.5" y2="447.3" stroke="#c8c8c8" stroke-width="0.75"/>
<line x1="361.2" y1="393.6" x2="388.5" y2="482.6" stroke="#8a8a8a" stroke-width="0.75"/>
<line x1="361.2" y1="393.6" x2="388.5" y2="517.7" stroke="#c8c8c8" stroke-width="0.75"/>
<line x1="361.2" y1="393.6" x2="388.5" y2="553.7" stroke="#c8c8c8" stroke-width="0.75"/>
<line x1="361.2" y1="393.6" x2="388.5" y2="588.1" stroke="#555" stroke-width="0.75"/>
<line x1="361.2" y1="425.8" x2="388.5" y2="415.1" stroke="#555" stroke-width="0.75"/>
<line x1="361.2" y1="425.8" x2="388.5" y2="447.3" stroke="#8a8a8a" stroke-width="0.75"/>
<line x1="361.2" y1="425.8" x2="388.5" y2="482.6" stroke="#c8c8c8" stroke-width="0.75"/>
<line x1="361.2" y1="425.8" x2="388.5" y2="517.7" stroke="#8a8a8a" stroke-width="0.75"/>
<line x1="361.2" y1="425.8" x2="388.5" y2="553.7" stroke="#1a1a1a" stroke-width="0.75"/>
<line x1="361.2" y1="425.8" x2="388.5" y2="588.1" stroke="#1a1a1a" stroke-width="0.75"/>
<line x1="361.2" y1="461.0" x2="388.5" y2="415.1" stroke="#c8c8c8" stroke-width="0.75"/>
<line x1="361.2" y1="461.0" x2="388.5" y2="447.3" stroke="#8a8a8a" stroke-width="0.75"/>
<line x1="361.2" y1="461.0" x2="388.5" y2="482.6" stroke="#555" stroke-width="0.75"/>
<line x1="361.2" y1="461.0" x2="388.5" y2="517.7" stroke="#b0b0b0" stroke-width="0.75"/>
<line x1="361.2" y1="461.0" x2="388.5" y2="553.7" stroke="#8a8a8a" stroke-width="0.75"/>
<line x1="361.2" y1="461.0" x2="388.5" y2="588.1" stroke="#c8c8c8" stroke-width="0.75"/>
<line x1="361.2" y1="496.2" x2="388.5" y2="415.1" stroke="#1a1a1a" stroke-width="0.75"/>
<line x1="361.2" y1="496.2" x2="388.5" y2="447.3" stroke="#1a1a1a" stroke-width="0.75"/>
<line x1="361.2" y1="496.2" x2="388.5" y2="482.6" stroke="#555" stroke-width="0.75"/>
<line x1="361.2" y1="496.2" x2="388.5" y2="517.7" stroke="#333" stroke-width="0.75"/>
<line x1="361.2" y1="496.2" x2="388.5" y2="553.7" stroke="#1a1a1a" stroke-width="0.75"/>
<line x1="361.2" y1="496.2" x2="388.5" y2="588.1" stroke="#1a1a1a" stroke-width="0.75"/>
<line x1="361.2" y1="531.6" x2="388.5" y2="415.1" stroke="#8a8a8a" stroke-width="0.75"/>
<line x1="361.2" y1="531.6" x2="388.5" y2="447.3" stroke="#c8c8c8" stroke-width="0.75"/>
<line x1="361.2" y1="531.6" x2="388.5" y2="482.6" stroke="#b0b0b0" stroke-width="0.75"/>
<line x1="361.2" y1="531.6" x2="388.5" y2="517.7" stroke="#b0b0b0" stroke-width="0.75"/>
<line x1="361.2" y1="531.6" x2="388.5" y2="553.7" stroke="#1a1a1a" stroke-width="0.75"/>
<line x1="361.2" y1="531.6" x2="388.5" y2="588.1" stroke="#8a8a8a" stroke-width="0.75"/>
<line x1="361.2" y1="566.6" x2="388.5" y2="415.1" stroke="#555" stroke-width="0.75"/>
<line x1="361.2" y1="566.6" x2="388.5" y2="447.3" stroke="#555" stroke-width="0.75"/>
<line x1="361.2" y1="566.6" x2="388.5" y2="482.6" stroke="#b0b0b0" stroke-width="0.75"/>
<line x1="361.2" y1="566.6" x2="388.5" y2="517.7" stroke="#b0b0b0" stroke-width="0.75"/>
<line x1="361.2" y1="566.6" x2="388.5" y2="553.7" stroke="#8a8a8a" stroke-width="0.75"/>
<line x1="361.2" y1="566.6" x2="388.5" y2="588.1" stroke="#b0b0b0" stroke-width="0.75"/>
<line x1="361.2" y1="602.2" x2="388.5" y2="415.1" stroke="#1a1a1a" stroke-width="0.75"/>
<line x1="361.2" y1="602.2" x2="388.5" y2="447.3" stroke="#8a8a8a" stroke-width="0.75"/>
<line x1="361.2" y1="602.2" x2="388.5" y2="482.6" stroke="#1a1a1a" stroke-width="0.75"/>
<line x1="361.2" y1="602.2" x2="388.5" y2="517.7" stroke="#c8c8c8" stroke-width="0.75"/>
<line x1="361.2" y1="602.2" x2="388.5" y2="553.7" stroke="#8a8a8a" stroke-width="0.75"/>
<line x1="361.2" y1="602.2" x2="388.5" y2="588.1" stroke="#1a1a1a" stroke-width="0.75"/>
<line x1="413.5" y1="415.1" x2="440.8" y2="434.8" stroke="#1a1a1a" stroke-width="0.75"/>
<line x1="413.5" y1="415.1" x2="440.8" y2="470.0" stroke="#1a1a1a" stroke-width="0.75"/>
<line x1="413.5" y1="415.1" x2="440.8" y2="505.3" stroke="#1a1a1a" stroke-width="0.75"/>
<line x1="413.5" y1="415.1" x2="440.8" y2="540.7" stroke="#1a1a1a" stroke-width="0.75"/>
<line x1="413.5" y1="415.1" x2="440.8" y2="575.8" stroke="#8a8a8a" stroke-width="0.75"/>
<line x1="413.5" y1="447.3" x2="440.8" y2="434.8" stroke="#1a1a1a" stroke-width="0.75"/>
<line x1="413.5" y1="447.3" x2="440.8" y2="470.0" stroke="#c8c8c8" stroke-width="0.75"/>
<line x1="413.5" y1="447.3" x2="440.8" y2="505.3" stroke="#555" stroke-width="0.75"/>
<line x1="413.5" y1="447.3" x2="440.8" y2="540.7" stroke="#333" stroke-width="0.75"/>
<line x1="413.5" y1="447.3" x2="440.8" y2="575.8" stroke="#555" stroke-width="0.75"/>
<line x1="413.5" y1="482.6" x2="440.8" y2="434.8" stroke="#8a8a8a" stroke-width="0.75"/>
<line x1="413.5" y1="482.6" x2="440.8" y2="470.0" stroke="#c8c8c8" stroke-width="0.75"/>
<line x1="413.5" y1="482.6" x2="440.8" y2="505.3" stroke="#1a1a1a" stroke-width="0.75"/>
<line x1="413.5" y1="482.6" x2="440.8" y2="540.7" stroke="#8a8a8a" stroke-width="0.75"/>
<line x1="413.5" y1="482.6" x2="440.8" y2="575.8" stroke="#1a1a1a" stroke-width="0.75"/>
<line x1="413.5" y1="517.7" x2="440.8" y2="434.8" stroke="#b0b0b0" stroke-width="0.75"/>
<line x1="413.5" y1="517.7" x2="440.8" y2="470.0" stroke="#333" stroke-width="0.75"/>
<line x1="413.5" y1="517.7" x2="440.8" y2="505.3" stroke="#555" stroke-width="0.75"/>
<line x1="413.5" y1="517.7" x2="440.8" y2="540.7" stroke="#1a1a1a" stroke-width="0.75"/>
<line x1="413.5" y1="517.7" x2="440.8" y2="575.8" stroke="#b0b0b0" stroke-width="0.75"/>
<line x1="413.5" y1="553.7" x2="440.8" y2="434.8" stroke="#1a1a1a" stroke-width="0.75"/>
<line x1="413.5" y1="553.7" x2="440.8" y2="470.0" stroke="#555" stroke-width="0.75"/>
<line x1="413.5" y1="553.7" x2="440.8" y2="505.3" stroke="#b0b0b0" stroke-width="0.75"/>
<line x1="413.5" y1="553.7" x2="440.8" y2="540.7" stroke="#333" stroke-width="0.75"/>
<line x1="413.5" y1="553.7" x2="440.8" y2="575.8" stroke="#555" stroke-width="0.75"/>
<line x1="413.5" y1="588.1" x2="440.8" y2="434.8" stroke="#8a8a8a" stroke-width="0.75"/>
<line x1="413.5" y1="588.1" x2="440.8" y2="470.0" stroke="#c8c8c8" stroke-width="0.75"/>
<line x1="413.5" y1="588.1" x2="440.8" y2="505.3" stroke="#1a1a1a" stroke-width="0.75"/>
<line x1="413.5" y1="588.1" x2="440.8" y2="540.7" stroke="#b0b0b0" stroke-width="0.75"/>
<line x1="413.5" y1="588.1" x2="440.8" y2="575.8" stroke="#333" stroke-width="0.75"/>
<line x1="465.8" y1="434.8" x2="507.7" y2="464.2" stroke="#333" stroke-width="0.75"/>
<line x1="465.8" y1="434.8" x2="507.7" y2="499.4" stroke="#c8c8c8" stroke-width="0.75"/>
<line x1="465.8" y1="434.8" x2="507.7" y2="534.9" stroke="#1a1a1a" stroke-width="0.75"/>
<line x1="465.8" y1="470.0" x2="507.7" y2="464.2" stroke="#8a8a8a" stroke-width="0.75"/>
<line x1="465.8" y1="470.0" x2="507.7" y2="499.4" stroke="#333" stroke-width="0.75"/>
<line x1="465.8" y1="470.0" x2="507.7" y2="534.9" stroke="#1a1a1a" stroke-width="0.75"/>
<line x1="465.8" y1="505.3" x2="507.7" y2="464.2" stroke="#1a1a1a" stroke-width="0.75"/>
<line x1="465.8" y1="505.3" x2="507.7" y2="499.4" stroke="#8a8a8a" stroke-width="0.75"/>
<line x1="465.8" y1="505.3" x2="507.7" y2="534.9" stroke="#c8c8c8" stroke-width="0.75"/>
<line x1="465.8" y1="540.7" x2="507.7" y2="464.2" stroke="#1a1a1a" stroke-width="0.75"/>
<line x1="465.8" y1="540.7" x2="507.7" y2="499.4" stroke="#555" stroke-width="0.75"/>
<line x1="465.8" y1="540.7" x2="507.7" y2="534.9" stroke="#1a1a1a" stroke-width="0.75"/>
<line x1="465.8" y1="575.8" x2="507.7" y2="464.2" stroke="#c8c8c8" stroke-width="0.75"/>
<line x1="465.8" y1="575.8" x2="507.7" y2="499.4" stroke="#333" stroke-width="0.75"/>
<line x1="465.8" y1="575.8" x2="507.7" y2="534.9" stroke="#555" stroke-width="0.75"/>
<line x1="532.7" y1="464.2" x2="573.3" y2="497.4" stroke="#1a1a1a" stroke-width="0.75"/>
<line x1="532.7" y1="499.4" x2="573.3" y2="497.4" stroke="#1a1a1a" stroke-width="0.75"/>
<line x1="532.7" y1="534.9" x2="573.3" y2="497.4" stroke="#c8c8c8" stroke-width="0.75"/>
<ellipse cx="348.7" cy="393.6" rx="12.0" ry="13.0" fill="#e1edf2" stroke="#b13ba4" stroke-width="1.6"/>
<ellipse cx="348.7" cy="425.8" rx="12.0" ry="13.0" fill="#e1edf2" stroke="#b13ba4" stroke-width="1.6"/>
<ellipse cx="348.7" cy="461.0" rx="12.0" ry="13.0" fill="#e1edf2" stroke="#b13ba4" stroke-width="1.6"/>
<ellipse cx="348.7" cy="496.2" rx="12.0" ry="13.0" fill="#e1edf2" stroke="#b13ba4" stroke-width="1.6"/>
<ellipse cx="348.7" cy="531.6" rx="12.0" ry="13.0" fill="#e1edf2" stroke="#5ea4a7" stroke-width="1.6"/>
<ellipse cx="348.7" cy="566.6" rx="12.0" ry="13.0" fill="#e1edf2" stroke="#5ea4a7" stroke-width="1.6"/>
<ellipse cx="348.7" cy="602.2" rx="12.0" ry="13.0" fill="#e1edf2" stroke="#5ea4a7" stroke-width="1.6"/>
<ellipse cx="401.0" cy="415.1" rx="12.0" ry="13.0" fill="#eaeffa" stroke="#222" stroke-width="1.8"/>
<ellipse cx="401.0" cy="447.3" rx="12.0" ry="13.0" fill="#eaeffa" stroke="#222" stroke-width="1.8"/>
<ellipse cx="401.0" cy="482.6" rx="12.0" ry="13.0" fill="#eaeffa" stroke="#222" stroke-width="1.8"/>
<ellipse cx="401.0" cy="517.7" rx="12.0" ry="13.0" fill="#eaeffa" stroke="#222" stroke-width="1.8"/>
<ellipse cx="401.0" cy="553.7" rx="12.0" ry="13.0" fill="#eaeffa" stroke="#222" stroke-width="1.8"/>
<ellipse cx="401.0" cy="588.1" rx="12.0" ry="13.0" fill="#eaeffa" stroke="#222" stroke-width="1.8"/>
<ellipse cx="453.3" cy="434.8" rx="12.0" ry="13.0" fill="#eaeffa" stroke="#222" stroke-width="1.8"/>
<ellipse cx="453.3" cy="470.0" rx="12.0" ry="13.0" fill="#eaeffa" stroke="#222" stroke-width="1.8"/>
<ellipse cx="453.3" cy="505.3" rx="12.0" ry="13.0" fill="#eaeffa" stroke="#222" stroke-width="1.8"/>
<ellipse cx="453.3" cy="540.7" rx="12.0" ry="13.0" fill="#eaeffa" stroke="#222" stroke-width="1.8"/>
<ellipse cx="453.3" cy="575.8" rx="12.0" ry="13.0" fill="#eaeffa" stroke="#222" stroke-width="1.8"/>
<ellipse cx="520.2" cy="464.2" rx="12.0" ry="13.0" fill="#eaeffa" stroke="#222" stroke-width="1.8"/>
<ellipse cx="520.2" cy="499.4" rx="12.0" ry="13.0" fill="#eaeffa" stroke="#222" stroke-width="1.8"/>
<ellipse cx="520.2" cy="534.9" rx="12.0" ry="13.0" fill="#eaeffa" stroke="#222" stroke-width="1.8"/>
<ellipse cx="585.9" cy="497.4" rx="12.2" ry="13.2" fill="url(#pred)" stroke="#9aaee2" stroke-width="1.5"/>
<circle cx="664.8" cy="500" r="7.6" fill="url(#pred)" stroke="#9fb2e6" stroke-width="1"/>
<line x1="365.0" y1="375.4" x2="393.2" y2="389.9" stroke="#b5b5b5" stroke-width="1.9"/>
<path d="M400.4,393.6 L390.7,393.6 L394.8,385.8 z" fill="#b5b5b5"/>
<line x1="416.1" y1="396.8" x2="443.7" y2="411.6" stroke="#b5b5b5" stroke-width="1.9"/>
<path d="M450.8,415.4 L441.1,415.2 L445.3,407.5 z" fill="#b5b5b5"/>
<line x1="473.0" y1="424.8" x2="500.0" y2="440.5" stroke="#b5b5b5" stroke-width="1.9"/>
<path d="M507.0,444.6 L497.4,444.1 L501.8,436.5 z" fill="#b5b5b5"/>
<line x1="541.4" y1="461.4" x2="567.2" y2="478.8" stroke="#b5b5b5" stroke-width="1.9"/>
<path d="M573.9,483.3 L564.3,482.1 L569.2,474.8 z" fill="#b5b5b5"/>
<rect x="569.8" y="378.3" width="110.2" height="34.3" rx="7.5" fill="none" stroke="#111" stroke-width="1.7" stroke-dasharray="3.2,2.6"/>
<text x="582.0" y="393.7" font-size="10.1" fill="#1a1a1a" stroke="#1a1a1a" stroke-width="0.22" textLength="87.4" lengthAdjust="spacingAndGlyphs">Error minimized with</text>
<text x="609.8" y="404.8" font-size="10.1" fill="#1a1a1a" stroke="#1a1a1a" stroke-width="0.22" textLength="31.7" lengthAdjust="spacingAndGlyphs">training</text>
<path d="M629.4,419.5 V475" stroke="#111" stroke-width="1.7" stroke-dasharray="2,2.2"/>
<text x="617.3" y="488.8" font-size="10.4" fill="#1a1a1a" stroke="#1a1a1a" stroke-width="0.22" textLength="22.7" lengthAdjust="spacingAndGlyphs">Error</text>
<path d="M614,499.3 H642" stroke="#444" stroke-width="1.9"/>
<path d="M608.7,499.3 L616.2,495.4 L616.2,503.2 z" fill="#444"/>
<path d="M647.5,499.3 L640,495.4 L640,503.2 z" fill="#444"/>
<text x="568.9" y="530.9" font-size="9.6" fill="#1a1a1a" stroke="#1a1a1a" stroke-width="0.22" textLength="38.3" lengthAdjust="spacingAndGlyphs">Predicted</text>
<text x="579.0" y="541.2" font-size="9.6" fill="#1a1a1a" stroke="#1a1a1a" stroke-width="0.22" textLength="17.8" lengthAdjust="spacingAndGlyphs">drug</text>
<text x="567.9" y="551.3" font-size="9.6" fill="#1a1a1a" stroke="#1a1a1a" stroke-width="0.22" textLength="40.7" lengthAdjust="spacingAndGlyphs">sensitivity</text>
<text x="650.7" y="527.9" font-size="9.6" fill="#1a1a1a" stroke="#1a1a1a" stroke-width="0.22" textLength="26.1" lengthAdjust="spacingAndGlyphs">Actual</text>
<text x="654.7" y="538.0" font-size="9.6" fill="#1a1a1a" stroke="#1a1a1a" stroke-width="0.22" textLength="18.1" lengthAdjust="spacingAndGlyphs">drug</text>
<text x="643.2" y="548.6" font-size="9.6" fill="#1a1a1a" stroke="#1a1a1a" stroke-width="0.22" textLength="40.8" lengthAdjust="spacingAndGlyphs">sensitivity</text>
<path d="M339.6,626 V636.4 H360.8 V626 M350.2,636.4 V641.6" fill="none" stroke="#333" stroke-width="1.5"/>
<path d="M387.9,626 V636.2 H539 V626 M463.5,636.2 V640.4" fill="none" stroke="#333" stroke-width="1.5"/>
<path d="M578,622.4 V633 H600 V622.4 M589,633 V637.8" fill="none" stroke="#333" stroke-width="1.5"/>
<text x="340.6" y="655.4" font-size="9.8" fill="#1a1a1a" stroke="#1a1a1a" stroke-width="0.22" textLength="20.6" lengthAdjust="spacingAndGlyphs">Input</text>
<text x="341.0" y="665.8" font-size="9.8" fill="#1a1a1a" stroke="#1a1a1a" stroke-width="0.22" textLength="19.6" lengthAdjust="spacingAndGlyphs">layer</text>
<text x="448.9" y="655.4" font-size="9.8" fill="#1a1a1a" stroke="#1a1a1a" stroke-width="0.22" textLength="28.9" lengthAdjust="spacingAndGlyphs">Hidden</text>
<text x="451.4" y="665.6" font-size="9.8" fill="#1a1a1a" stroke="#1a1a1a" stroke-width="0.22" textLength="23.8" lengthAdjust="spacingAndGlyphs">layers</text>
<text x="574.1" y="653.3" font-size="9.8" fill="#1a1a1a" stroke="#1a1a1a" stroke-width="0.22" textLength="27.1" lengthAdjust="spacingAndGlyphs">Output</text>
<text x="578.0" y="663.6" font-size="9.8" fill="#1a1a1a" stroke="#1a1a1a" stroke-width="0.22" textLength="18.8" lengthAdjust="spacingAndGlyphs">layer</text>
<path d="M6.9,675 H666.3 L690.6,689.9 L666.3,705.2 H6.9 L31.8,689.9 z" fill="#edf1fb" stroke="#98a7d6" stroke-width="1.5"/>
<text x="36.9" y="688.8" font-size="9.9" fill="#1a1a1a" stroke="#1a1a1a" stroke-width="0.22" textLength="61.3" lengthAdjust="spacingAndGlyphs">Entities in drug</text>
<text x="47.7" y="699.0" font-size="9.9" fill="#1a1a1a" stroke="#1a1a1a" stroke-width="0.22" textLength="39.5" lengthAdjust="spacingAndGlyphs">screening</text>
<text x="122.5" y="688.8" font-size="9.9" fill="#1a1a1a" stroke="#1a1a1a" stroke-width="0.22" textLength="78.6" lengthAdjust="spacingAndGlyphs">Data type selection</text>
<text x="116.6" y="699.1" font-size="9.9" fill="#1a1a1a" stroke="#1a1a1a" stroke-width="0.22" textLength="90.5" lengthAdjust="spacingAndGlyphs">to represent the entity</text>
<text x="223.6" y="691.4" font-size="9.9" fill="#1a1a1a" stroke="#1a1a1a" stroke-width="0.22" textLength="81.3" lengthAdjust="spacingAndGlyphs">Features generation</text>
<text x="347.6" y="691.4" font-size="9.9" fill="#1a1a1a" stroke="#1a1a1a" stroke-width="0.22" textLength="186.4" lengthAdjust="spacingAndGlyphs">Information processing inside neural network</text>
<text x="574.0" y="691.2" font-size="9.9" fill="#1a1a1a" stroke="#1a1a1a" stroke-width="0.22" textLength="41.0" lengthAdjust="spacingAndGlyphs">Prediction</text>
</svg>
</body></html>
